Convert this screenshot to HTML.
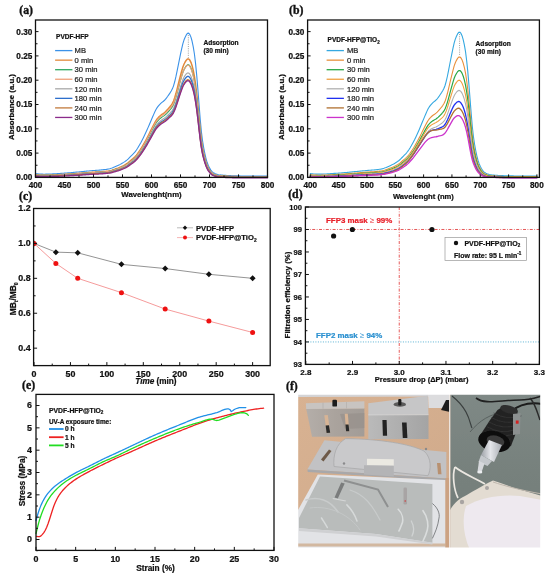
<!DOCTYPE html>
<html><head><meta charset="utf-8"><style>
html,body{margin:0;padding:0;background:#fff;}
svg{display:block;}
</style></head><body>
<svg width="550" height="578" viewBox="0 0 550 578">
<rect width="550" height="578" fill="#fff"/>
<polyline points="35.50,173.66 36.66,173.77 37.82,173.88 38.98,173.97 40.14,174.05 41.30,174.12 42.46,174.16 43.62,174.18 44.78,174.18 45.94,174.17 47.10,174.14 48.26,174.11 49.42,174.07 50.58,174.01 51.74,173.96 52.90,173.89 54.06,173.82 55.22,173.75 56.38,173.68 57.54,173.60 58.70,173.52 59.86,173.45 61.02,173.37 62.18,173.30 63.34,173.22 64.50,173.14 65.66,173.06 66.82,172.97 67.98,172.88 69.14,172.79 70.30,172.69 71.46,172.59 72.62,172.48 73.78,172.38 74.94,172.27 76.10,172.16 77.26,172.05 78.42,171.94 79.58,171.83 80.74,171.71 81.90,171.60 83.06,171.49 84.22,171.37 85.38,171.26 86.54,171.15 87.70,171.04 88.86,170.93 90.02,170.82 91.18,170.72 92.34,170.63 93.50,170.54 94.66,170.45 95.82,170.37 96.98,170.28 98.14,170.19 99.30,170.09 100.46,169.99 101.62,169.88 102.78,169.77 103.94,169.64 105.10,169.49 106.26,169.34 107.42,169.16 108.58,168.95 109.74,168.66 110.90,168.31 112.06,167.91 113.22,167.47 114.38,166.99 115.54,166.50 116.70,166.00 117.86,165.49 119.02,164.95 120.18,164.38 121.34,163.76 122.50,163.10 123.66,162.40 124.82,161.64 125.98,160.82 127.14,159.88 128.30,158.80 129.46,157.64 130.62,156.47 131.78,155.32 132.94,154.17 134.10,152.94 135.26,151.56 136.42,149.98 137.58,148.20 138.74,146.28 139.90,144.27 141.06,142.18 142.22,139.97 143.38,137.66 144.54,135.27 145.70,132.82 146.86,130.27 148.02,127.62 149.18,124.92 150.34,122.21 151.50,119.49 152.66,116.76 153.82,114.10 154.98,111.56 156.14,109.29 157.30,107.41 158.46,105.85 159.62,104.54 160.78,103.40 161.94,102.40 163.10,101.48 164.26,100.50 165.42,99.31 166.58,97.89 167.74,96.30 168.90,94.61 170.06,92.90 171.22,91.07 172.38,88.85 173.54,85.84 174.70,81.77 175.86,76.92 177.02,71.38 178.18,65.52 179.34,59.78 180.50,54.20 181.66,48.79 182.82,43.81 183.98,40.08 185.14,37.23 186.30,34.90 187.46,33.38 188.62,33.15 189.78,34.48 190.94,37.14 192.10,41.27 193.26,46.86 194.42,54.00 195.58,63.61 196.74,75.58 197.90,89.52 199.06,104.65 200.22,119.29 201.38,131.61 202.54,140.74 203.70,147.81 204.86,153.62 206.02,158.58 207.18,162.55 208.34,165.51 209.50,167.90 210.66,169.89 211.82,171.43 212.98,172.45 214.14,173.12 215.30,173.66 216.46,174.11 217.62,174.47 218.78,174.74 219.94,174.92 221.10,175.04 222.26,175.13 223.42,175.22 224.58,175.31 225.74,175.39 226.90,175.46 228.06,175.53 229.22,175.59 230.38,175.65 231.54,175.70 232.70,175.75 233.86,175.79 235.02,175.83 236.18,175.86 237.34,175.89 238.50,175.91 239.66,175.92 240.82,175.93 241.98,175.94 243.14,175.94 244.30,175.94 245.46,175.94 246.62,175.94 247.78,175.94 248.94,175.94 250.10,175.94 251.26,175.94 252.42,175.94 253.58,175.94 254.74,175.94 255.90,175.94 257.06,175.94 258.22,175.94 259.38,175.94 260.54,175.94 261.70,175.94 262.86,175.94 264.02,175.94 265.18,175.94 266.34,175.94 267.50,175.94" fill="none" stroke="#3b92e8" stroke-width="1.1" stroke-linejoin="round" stroke-linecap="round" />
<polyline points="35.50,174.82 36.66,174.91 37.82,175.00 38.98,175.07 40.14,175.14 41.30,175.19 42.46,175.23 43.62,175.24 44.78,175.24 45.94,175.23 47.10,175.21 48.26,175.19 49.42,175.15 50.58,175.11 51.74,175.06 52.90,175.01 54.06,174.95 55.22,174.89 56.38,174.83 57.54,174.77 58.70,174.70 59.86,174.64 61.02,174.58 62.18,174.52 63.34,174.46 64.50,174.39 65.66,174.32 66.82,174.25 67.98,174.18 69.14,174.10 70.30,174.02 71.46,173.94 72.62,173.85 73.78,173.77 74.94,173.68 76.10,173.59 77.26,173.50 78.42,173.40 79.58,173.31 80.74,173.22 81.90,173.13 83.06,173.03 84.22,172.94 85.38,172.85 86.54,172.76 87.70,172.66 88.86,172.58 90.02,172.49 91.18,172.41 92.34,172.33 93.50,172.26 94.66,172.18 95.82,172.11 96.98,172.04 98.14,171.97 99.30,171.89 100.46,171.81 101.62,171.72 102.78,171.62 103.94,171.52 105.10,171.40 106.26,171.27 107.42,171.13 108.58,170.95 109.74,170.72 110.90,170.43 112.06,170.10 113.22,169.73 114.38,169.34 115.54,168.94 116.70,168.53 117.86,168.11 119.02,167.66 120.18,167.18 121.34,166.68 122.50,166.13 123.66,165.55 124.82,164.92 125.98,164.24 127.14,163.45 128.30,162.55 129.46,161.58 130.62,160.60 131.78,159.64 132.94,158.67 134.10,157.63 135.26,156.46 136.42,155.13 137.58,153.62 138.74,152.00 139.90,150.30 141.06,148.52 142.22,146.64 143.38,144.67 144.54,142.64 145.70,140.54 146.86,138.36 148.02,136.09 149.18,133.78 150.34,131.46 151.50,129.12 152.66,126.79 153.82,124.51 154.98,122.33 156.14,120.38 157.30,118.75 158.46,117.39 159.62,116.24 160.78,115.25 161.94,114.38 163.10,113.59 164.26,112.75 165.42,111.76 166.58,110.60 167.74,109.31 168.90,107.95 170.06,106.59 171.22,105.13 172.38,103.37 173.54,100.97 174.70,97.71 175.86,93.82 177.02,89.36 178.18,84.64 179.34,80.03 180.50,75.55 181.66,71.21 182.82,67.22 183.98,64.26 185.14,62.01 186.30,60.18 187.46,59.02 188.62,58.91 189.78,60.07 190.94,62.33 192.10,65.78 193.26,70.41 194.42,76.32 195.58,84.25 196.74,94.11 197.90,105.59 199.06,118.04 200.22,130.07 201.38,140.21 202.54,147.72 203.70,153.53 204.86,158.32 206.02,162.39 207.18,165.66 208.34,168.10 209.50,170.06 210.66,171.71 211.82,172.97 212.98,173.81 214.14,174.37 215.30,174.81 216.46,175.18 217.62,175.48 218.78,175.70 219.94,175.85 221.10,175.94 222.26,176.02 223.42,176.10 224.58,176.17 225.74,176.23 226.90,176.30 228.06,176.35 229.22,176.40 230.38,176.45 231.54,176.49 232.70,176.53 233.86,176.57 235.02,176.60 236.18,176.62 237.34,176.64 238.50,176.66 239.66,176.67 240.82,176.68 241.98,176.69 243.14,176.69 244.30,176.69 245.46,176.69 246.62,176.69 247.78,176.69 248.94,176.69 250.10,176.69 251.26,176.69 252.42,176.69 253.58,176.69 254.74,176.69 255.90,176.69 257.06,176.69 258.22,176.69 259.38,176.69 260.54,176.69 261.70,176.69 262.86,176.69 264.02,176.69 265.18,176.69 266.34,176.69 267.50,176.69" fill="none" stroke="#e3893a" stroke-width="1.5" stroke-linejoin="round" stroke-linecap="round" />
<polyline points="35.50,174.97 36.66,175.06 37.82,175.14 38.98,175.21 40.14,175.28 41.30,175.33 42.46,175.36 43.62,175.38 44.78,175.38 45.94,175.37 47.10,175.35 48.26,175.32 49.42,175.29 50.58,175.25 51.74,175.20 52.90,175.15 54.06,175.10 55.22,175.04 56.38,174.98 57.54,174.92 58.70,174.86 59.86,174.80 61.02,174.75 62.18,174.69 63.34,174.63 64.50,174.57 65.66,174.50 66.82,174.43 67.98,174.36 69.14,174.29 70.30,174.21 71.46,174.13 72.62,174.05 73.78,173.97 74.94,173.89 76.10,173.80 77.26,173.72 78.42,173.63 79.58,173.54 80.74,173.45 81.90,173.36 83.06,173.28 84.22,173.19 85.38,173.10 86.54,173.01 87.70,172.93 88.86,172.84 90.02,172.76 91.18,172.68 92.34,172.61 93.50,172.54 94.66,172.47 95.82,172.40 96.98,172.33 98.14,172.26 99.30,172.19 100.46,172.11 101.62,172.03 102.78,171.93 103.94,171.83 105.10,171.72 106.26,171.60 107.42,171.46 108.58,171.30 109.74,171.07 110.90,170.80 112.06,170.49 113.22,170.14 114.38,169.77 115.54,169.39 116.70,169.00 117.86,168.59 119.02,168.17 120.18,167.72 121.34,167.23 122.50,166.71 123.66,166.16 124.82,165.56 125.98,164.91 127.14,164.16 128.30,163.30 129.46,162.38 130.62,161.45 131.78,160.53 132.94,159.60 134.10,158.60 135.26,157.49 136.42,156.21 137.58,154.78 138.74,153.22 139.90,151.59 141.06,149.89 142.22,148.09 143.38,146.21 144.54,144.26 145.70,142.25 146.86,140.16 148.02,137.99 149.18,135.77 150.34,133.54 151.50,131.31 152.66,129.07 153.82,126.88 154.98,124.79 156.14,122.92 157.30,121.36 158.46,120.05 159.62,118.94 160.78,117.99 161.94,117.15 163.10,116.39 164.26,115.59 165.42,114.65 166.58,113.54 167.74,112.32 168.90,111.04 170.06,109.75 171.22,108.37 172.38,106.72 173.54,104.45 174.70,101.36 175.86,97.69 177.02,93.47 178.18,89.01 179.34,84.65 180.50,80.42 181.66,76.31 182.82,72.54 183.98,69.75 185.14,67.63 186.30,65.91 187.46,64.82 188.62,64.74 189.78,65.86 190.94,68.01 192.10,71.30 193.26,75.72 194.42,81.34 195.58,88.88 196.74,98.26 197.90,109.17 199.06,121.00 200.22,132.44 201.38,142.07 202.54,149.21 203.70,154.74 204.86,159.29 206.02,163.16 207.18,166.27 208.34,168.59 209.50,170.45 210.66,172.01 211.82,173.21 212.98,174.01 214.14,174.54 215.30,174.96 216.46,175.31 217.62,175.60 218.78,175.81 219.94,175.95 221.10,176.04 222.26,176.12 223.42,176.19 224.58,176.26 225.74,176.32 226.90,176.38 228.06,176.43 229.22,176.48 230.38,176.52 231.54,176.56 232.70,176.60 233.86,176.63 235.02,176.66 236.18,176.69 237.34,176.71 238.50,176.72 239.66,176.73 240.82,176.74 241.98,176.75 243.14,176.75 244.30,176.75 245.46,176.75 246.62,176.75 247.78,176.75 248.94,176.75 250.10,176.75 251.26,176.75 252.42,176.75 253.58,176.75 254.74,176.75 255.90,176.75 257.06,176.75 258.22,176.75 259.38,176.75 260.54,176.75 261.70,176.75 262.86,176.75 264.02,176.75 265.18,176.75 266.34,176.75 267.50,176.75" fill="none" stroke="#2fa860" stroke-width="1.1" stroke-linejoin="round" stroke-linecap="round" />
<polyline points="35.50,175.00 36.66,175.09 37.82,175.17 38.98,175.24 40.14,175.30 41.30,175.35 42.46,175.39 43.62,175.40 44.78,175.40 45.94,175.39 47.10,175.37 48.26,175.35 49.42,175.31 50.58,175.27 51.74,175.23 52.90,175.18 54.06,175.13 55.22,175.07 56.38,175.01 57.54,174.95 58.70,174.90 59.86,174.84 61.02,174.78 62.18,174.72 63.34,174.66 64.50,174.60 65.66,174.54 66.82,174.47 67.98,174.40 69.14,174.33 70.30,174.25 71.46,174.17 72.62,174.09 73.78,174.01 74.94,173.93 76.10,173.84 77.26,173.76 78.42,173.67 79.58,173.59 80.74,173.50 81.90,173.41 83.06,173.32 84.22,173.24 85.38,173.15 86.54,173.06 87.70,172.98 88.86,172.89 90.02,172.81 91.18,172.73 92.34,172.66 93.50,172.59 94.66,172.53 95.82,172.46 96.98,172.39 98.14,172.32 99.30,172.25 100.46,172.17 101.62,172.09 102.78,172.00 103.94,171.90 105.10,171.79 106.26,171.67 107.42,171.53 108.58,171.36 109.74,171.14 110.90,170.87 112.06,170.56 113.22,170.22 114.38,169.85 115.54,169.47 116.70,169.08 117.86,168.68 119.02,168.26 120.18,167.81 121.34,167.32 122.50,166.81 123.66,166.25 124.82,165.65 125.98,165.00 127.14,164.24 128.30,163.38 129.46,162.45 130.62,161.50 131.78,160.57 132.94,159.62 134.10,158.60 135.26,157.46 136.42,156.16 137.58,154.69 138.74,153.09 139.90,151.42 141.06,149.67 142.22,147.81 143.38,145.87 144.54,143.85 145.70,141.77 146.86,139.61 148.02,137.36 149.18,135.06 150.34,132.74 151.50,130.42 152.66,128.10 153.82,125.83 154.98,123.65 156.14,121.70 157.30,120.06 158.46,118.68 159.62,117.51 160.78,116.49 161.94,115.61 163.10,114.82 164.26,114.00 165.42,113.05 166.58,111.96 167.74,110.76 168.90,109.52 170.06,108.29 171.22,106.98 172.38,105.41 173.54,103.24 174.70,100.27 175.86,96.73 177.02,92.66 178.18,88.35 179.34,84.14 180.50,80.06 181.66,76.11 182.82,72.48 183.98,69.82 185.14,67.83 186.30,66.23 187.46,65.24 188.62,65.24 189.78,66.43 190.94,68.64 192.10,71.96 193.26,76.40 194.42,82.01 195.58,89.53 196.74,98.85 197.90,109.68 199.06,121.43 200.22,132.77 201.38,142.33 202.54,149.41 203.70,154.90 204.86,159.42 206.02,163.26 207.18,166.35 208.34,168.65 209.50,170.50 210.66,172.05 211.82,173.25 212.98,174.04 214.14,174.57 215.30,174.99 216.46,175.34 217.62,175.62 218.78,175.83 219.94,175.97 221.10,176.06 222.26,176.13 223.42,176.21 224.58,176.27 225.74,176.33 226.90,176.39 228.06,176.44 229.22,176.49 230.38,176.54 231.54,176.58 232.70,176.61 233.86,176.65 235.02,176.67 236.18,176.70 237.34,176.72 238.50,176.73 239.66,176.75 240.82,176.75 241.98,176.76 243.14,176.76 244.30,176.76 245.46,176.76 246.62,176.76 247.78,176.76 248.94,176.76 250.10,176.76 251.26,176.76 252.42,176.76 253.58,176.76 254.74,176.76 255.90,176.76 257.06,176.76 258.22,176.76 259.38,176.76 260.54,176.76 261.70,176.76 262.86,176.76 264.02,176.76 265.18,176.76 266.34,176.76 267.50,176.76" fill="none" stroke="#f0a07a" stroke-width="1.1" stroke-linejoin="round" stroke-linecap="round" />
<polyline points="35.50,175.68 36.66,175.76 37.82,175.83 38.98,175.90 40.14,175.96 41.30,176.00 42.46,176.04 43.62,176.05 44.78,176.05 45.94,176.04 47.10,176.02 48.26,176.00 49.42,175.97 50.58,175.93 51.74,175.89 52.90,175.84 54.06,175.79 55.22,175.74 56.38,175.69 57.54,175.63 58.70,175.58 59.86,175.52 61.02,175.47 62.18,175.42 63.34,175.36 64.50,175.30 65.66,175.24 66.82,175.18 67.98,175.12 69.14,175.05 70.30,174.98 71.46,174.90 72.62,174.83 73.78,174.75 74.94,174.68 76.10,174.60 77.26,174.52 78.42,174.44 79.58,174.35 80.74,174.27 81.90,174.19 83.06,174.11 84.22,174.03 85.38,173.95 86.54,173.87 87.70,173.79 88.86,173.71 90.02,173.63 91.18,173.56 92.34,173.49 93.50,173.43 94.66,173.36 95.82,173.30 96.98,173.24 98.14,173.17 99.30,173.11 100.46,173.03 101.62,172.95 102.78,172.87 103.94,172.78 105.10,172.67 106.26,172.56 107.42,172.43 108.58,172.28 109.74,172.07 110.90,171.82 112.06,171.53 113.22,171.21 114.38,170.86 115.54,170.51 116.70,170.14 117.86,169.77 119.02,169.38 120.18,168.95 121.34,168.50 122.50,168.02 123.66,167.49 124.82,166.93 125.98,166.32 127.14,165.62 128.30,164.80 129.46,163.93 130.62,163.04 131.78,162.17 132.94,161.28 134.10,160.32 135.26,159.25 136.42,158.02 137.58,156.64 138.74,155.14 139.90,153.57 141.06,151.92 142.22,150.17 143.38,148.34 144.54,146.44 145.70,144.48 146.86,142.44 148.02,140.32 149.18,138.15 150.34,135.98 151.50,133.79 152.66,131.59 153.82,129.46 154.98,127.41 156.14,125.56 157.30,124.01 158.46,122.71 159.62,121.60 160.78,120.64 161.94,119.81 163.10,119.06 164.26,118.29 165.42,117.40 166.58,116.38 167.74,115.26 168.90,114.11 170.06,112.96 171.22,111.75 172.38,110.30 173.54,108.29 174.70,105.53 175.86,102.23 177.02,98.45 178.18,94.44 179.34,90.53 180.50,86.73 181.66,83.06 182.82,79.69 183.98,77.23 185.14,75.39 186.30,73.90 187.46,73.00 188.62,73.01 189.78,74.14 190.94,76.21 192.10,79.33 193.26,83.48 194.42,88.74 195.58,95.77 196.74,104.49 197.90,114.62 199.06,125.59 200.22,136.20 201.38,145.13 202.54,151.75 203.70,156.88 204.86,161.11 206.02,164.70 207.18,167.58 208.34,169.74 209.50,171.47 210.66,172.92 211.82,174.03 212.98,174.78 214.14,175.27 215.30,175.66 216.46,175.99 217.62,176.25 218.78,176.45 219.94,176.58 221.10,176.66 222.26,176.74 223.42,176.80 224.58,176.86 225.74,176.92 226.90,176.97 228.06,177.02 229.22,177.07 230.38,177.11 231.54,177.15 232.70,177.18 233.86,177.21 235.02,177.24 236.18,177.26 237.34,177.28 238.50,177.30 239.66,177.31 240.82,177.31 241.98,177.32 243.14,177.32 244.30,177.32 245.46,177.32 246.62,177.32 247.78,177.32 248.94,177.32 250.10,177.32 251.26,177.32 252.42,177.32 253.58,177.32 254.74,177.32 255.90,177.32 257.06,177.32 258.22,177.32 259.38,177.32 260.54,177.32 261.70,177.32 262.86,177.32 264.02,177.32 265.18,177.32 266.34,177.32 267.50,177.32" fill="none" stroke="#a9a9a9" stroke-width="1.1" stroke-linejoin="round" stroke-linecap="round" />
<polyline points="35.50,175.77 36.66,175.84 37.82,175.92 38.98,175.98 40.14,176.04 41.30,176.08 42.46,176.11 43.62,176.13 44.78,176.13 45.94,176.12 47.10,176.10 48.26,176.08 49.42,176.05 50.58,176.01 51.74,175.97 52.90,175.93 54.06,175.88 55.22,175.83 56.38,175.78 57.54,175.72 58.70,175.67 59.86,175.62 61.02,175.56 62.18,175.51 63.34,175.46 64.50,175.41 65.66,175.35 66.82,175.29 67.98,175.22 69.14,175.16 70.30,175.09 71.46,175.02 72.62,174.95 73.78,174.87 74.94,174.80 76.10,174.72 77.26,174.64 78.42,174.57 79.58,174.49 80.74,174.41 81.90,174.33 83.06,174.25 84.22,174.17 85.38,174.09 86.54,174.01 87.70,173.94 88.86,173.86 90.02,173.79 91.18,173.72 92.34,173.65 93.50,173.59 94.66,173.53 95.82,173.47 96.98,173.41 98.14,173.34 99.30,173.28 100.46,173.21 101.62,173.13 102.78,173.05 103.94,172.96 105.10,172.86 106.26,172.75 107.42,172.63 108.58,172.48 109.74,172.28 110.90,172.04 112.06,171.75 113.22,171.44 114.38,171.11 115.54,170.77 116.70,170.41 117.86,170.05 119.02,169.67 120.18,169.26 121.34,168.82 122.50,168.35 123.66,167.85 124.82,167.30 125.98,166.71 127.14,166.03 128.30,165.24 129.46,164.40 130.62,163.54 131.78,162.69 132.94,161.82 134.10,160.90 135.26,159.85 136.42,158.66 137.58,157.32 138.74,155.87 139.90,154.34 141.06,152.73 142.22,151.04 143.38,149.26 144.54,147.41 145.70,145.51 146.86,143.53 148.02,141.47 149.18,139.36 150.34,137.24 151.50,135.11 152.66,132.98 153.82,130.90 154.98,128.91 156.14,127.11 157.30,125.61 158.46,124.34 159.62,123.26 160.78,122.32 161.94,121.51 163.10,120.78 164.26,120.03 165.42,119.17 166.58,118.18 167.74,117.11 168.90,115.99 170.06,114.89 171.22,113.73 172.38,112.32 173.54,110.39 174.70,107.73 175.86,104.55 177.02,100.90 178.18,97.04 179.34,93.26 180.50,89.61 181.66,86.06 182.82,82.82 183.98,80.45 185.14,78.68 186.30,77.25 187.46,76.39 188.62,76.41 189.78,77.51 190.94,79.52 192.10,82.54 193.26,86.57 194.42,91.66 195.58,98.46 196.74,106.89 197.90,116.69 199.06,127.31 200.22,137.57 201.38,146.21 202.54,152.62 203.70,157.58 204.86,161.67 206.02,165.15 207.18,167.94 208.34,170.02 209.50,171.69 210.66,173.10 211.82,174.18 212.98,174.90 214.14,175.37 215.30,175.75 216.46,176.07 217.62,176.32 218.78,176.51 219.94,176.64 221.10,176.72 222.26,176.79 223.42,176.85 224.58,176.91 225.74,176.97 226.90,177.02 228.06,177.07 229.22,177.11 230.38,177.15 231.54,177.19 232.70,177.22 233.86,177.25 235.02,177.28 236.18,177.30 237.34,177.32 238.50,177.33 239.66,177.34 240.82,177.35 241.98,177.35 243.14,177.35 244.30,177.35 245.46,177.35 246.62,177.35 247.78,177.35 248.94,177.35 250.10,177.35 251.26,177.35 252.42,177.35 253.58,177.35 254.74,177.35 255.90,177.35 257.06,177.35 258.22,177.35 259.38,177.35 260.54,177.35 261.70,177.35 262.86,177.35 264.02,177.35 265.18,177.35 266.34,177.35 267.50,177.35" fill="none" stroke="#2d6fcc" stroke-width="1.3" stroke-linejoin="round" stroke-linecap="round" />
<polyline points="35.50,175.86 36.66,175.94 37.82,176.01 38.98,176.07 40.14,176.12 41.30,176.17 42.46,176.20 43.62,176.21 44.78,176.21 45.94,176.20 47.10,176.19 48.26,176.16 49.42,176.13 50.58,176.10 51.74,176.06 52.90,176.02 54.06,175.97 55.22,175.92 56.38,175.87 57.54,175.82 58.70,175.77 59.86,175.72 61.02,175.67 62.18,175.62 63.34,175.57 64.50,175.52 65.66,175.46 66.82,175.40 67.98,175.34 69.14,175.28 70.30,175.21 71.46,175.14 72.62,175.07 73.78,175.00 74.94,174.93 76.10,174.86 77.26,174.78 78.42,174.71 79.58,174.63 80.74,174.55 81.90,174.48 83.06,174.40 84.22,174.33 85.38,174.25 86.54,174.18 87.70,174.10 88.86,174.03 90.02,173.96 91.18,173.89 92.34,173.83 93.50,173.77 94.66,173.71 95.82,173.65 96.98,173.59 98.14,173.53 99.30,173.47 100.46,173.40 101.62,173.33 102.78,173.25 103.94,173.16 105.10,173.07 106.26,172.96 107.42,172.84 108.58,172.70 109.74,172.51 110.90,172.27 112.06,172.00 113.22,171.70 114.38,171.38 115.54,171.04 116.70,170.71 117.86,170.36 119.02,169.99 120.18,169.59 121.34,169.17 122.50,168.71 123.66,168.22 124.82,167.69 125.98,167.12 127.14,166.45 128.30,165.69 129.46,164.86 130.62,164.02 131.78,163.19 132.94,162.34 134.10,161.43 135.26,160.41 136.42,159.23 137.58,157.91 138.74,156.48 139.90,154.98 141.06,153.40 142.22,151.72 143.38,149.96 144.54,148.14 145.70,146.25 146.86,144.29 148.02,142.25 149.18,140.16 150.34,138.06 151.50,135.95 152.66,133.84 153.82,131.77 154.98,129.79 156.14,128.01 157.30,126.51 158.46,125.24 159.62,124.15 160.78,123.22 161.94,122.40 163.10,121.68 164.26,120.94 165.42,120.11 166.58,119.15 167.74,118.12 168.90,117.07 170.06,116.03 171.22,114.94 172.38,113.63 173.54,111.81 174.70,109.29 175.86,106.29 177.02,102.83 178.18,99.17 179.34,95.59 180.50,92.13 181.66,88.78 182.82,85.72 183.98,83.49 185.14,81.85 186.30,80.53 187.46,79.75 188.62,79.82 189.78,80.92 190.94,82.90 192.10,85.85 193.26,89.76 194.42,94.69 195.58,101.27 196.74,109.41 197.90,118.87 199.06,129.11 200.22,139.01 201.38,147.34 202.54,153.52 203.70,158.31 204.86,162.25 206.02,165.61 207.18,168.30 208.34,170.31 209.50,171.93 210.66,173.28 211.82,174.32 212.98,175.02 214.14,175.48 215.30,175.84 216.46,176.15 217.62,176.39 218.78,176.58 219.94,176.70 221.10,176.78 222.26,176.85 223.42,176.91 224.58,176.97 225.74,177.02 226.90,177.07 228.06,177.12 229.22,177.16 230.38,177.20 231.54,177.23 232.70,177.27 233.86,177.29 235.02,177.32 236.18,177.34 237.34,177.36 238.50,177.37 239.66,177.38 240.82,177.39 241.98,177.39 243.14,177.39 244.30,177.39 245.46,177.39 246.62,177.39 247.78,177.39 248.94,177.39 250.10,177.39 251.26,177.39 252.42,177.39 253.58,177.39 254.74,177.39 255.90,177.39 257.06,177.39 258.22,177.39 259.38,177.39 260.54,177.39 261.70,177.39 262.86,177.39 264.02,177.39 265.18,177.39 266.34,177.39 267.50,177.39" fill="none" stroke="#c27a3c" stroke-width="1.3" stroke-linejoin="round" stroke-linecap="round" />
<polyline points="35.50,176.36 36.66,176.43 37.82,176.50 38.98,176.57 40.14,176.62 41.30,176.66 42.46,176.69 43.62,176.71 44.78,176.71 45.94,176.70 47.10,176.68 48.26,176.66 49.42,176.63 50.58,176.59 51.74,176.56 52.90,176.51 54.06,176.47 55.22,176.42 56.38,176.37 57.54,176.32 58.70,176.27 59.86,176.21 61.02,176.16 62.18,176.12 63.34,176.07 64.50,176.01 65.66,175.96 66.82,175.90 67.98,175.84 69.14,175.77 70.30,175.71 71.46,175.64 72.62,175.57 73.78,175.50 74.94,175.43 76.10,175.36 77.26,175.28 78.42,175.21 79.58,175.13 80.74,175.06 81.90,174.98 83.06,174.90 84.22,174.83 85.38,174.75 86.54,174.68 87.70,174.60 88.86,174.53 90.02,174.46 91.18,174.39 92.34,174.33 93.50,174.27 94.66,174.21 95.82,174.15 96.98,174.10 98.14,174.04 99.30,173.97 100.46,173.91 101.62,173.83 102.78,173.75 103.94,173.67 105.10,173.57 106.26,173.47 107.42,173.35 108.58,173.20 109.74,173.01 110.90,172.78 112.06,172.51 113.22,172.21 114.38,171.89 115.54,171.56 116.70,171.22 117.86,170.87 119.02,170.51 120.18,170.11 121.34,169.69 122.50,169.24 123.66,168.75 124.82,168.23 125.98,167.65 127.14,166.99 128.30,166.23 129.46,165.41 130.62,164.58 131.78,163.76 132.94,162.92 134.10,162.01 135.26,161.00 136.42,159.84 137.58,158.53 138.74,157.11 139.90,155.62 141.06,154.06 142.22,152.40 143.38,150.66 144.54,148.86 145.70,146.99 146.86,145.05 148.02,143.03 149.18,140.97 150.34,138.89 151.50,136.81 152.66,134.72 153.82,132.68 154.98,130.72 156.14,128.96 157.30,127.48 158.46,126.22 159.62,125.16 160.78,124.24 161.94,123.43 163.10,122.72 164.26,121.99 165.42,121.16 166.58,120.21 167.74,119.18 168.90,118.13 170.06,117.08 171.22,115.99 172.38,114.67 173.54,112.85 174.70,110.33 175.86,107.32 177.02,103.86 178.18,100.20 179.34,96.62 180.50,93.16 181.66,89.81 182.82,86.74 183.98,84.51 185.14,82.85 186.30,81.52 187.46,80.73 188.62,80.79 189.78,81.87 190.94,83.84 192.10,86.76 193.26,90.64 194.42,95.55 195.58,102.09 196.74,110.20 197.90,119.62 199.06,129.81 200.22,139.67 201.38,147.97 202.54,154.12 203.70,158.89 204.86,162.81 206.02,166.15 207.18,168.83 208.34,170.83 209.50,172.44 210.66,173.79 211.82,174.83 212.98,175.52 214.14,175.98 215.30,176.34 216.46,176.64 217.62,176.89 218.78,177.07 219.94,177.19 221.10,177.27 222.26,177.34 223.42,177.40 224.58,177.46 225.74,177.51 226.90,177.56 228.06,177.61 229.22,177.65 230.38,177.69 231.54,177.72 232.70,177.76 233.86,177.78 235.02,177.81 236.18,177.83 237.34,177.85 238.50,177.86 239.66,177.87 240.82,177.88 241.98,177.88 243.14,177.88 244.30,177.88 245.46,177.88 246.62,177.88 247.78,177.88 248.94,177.88 250.10,177.88 251.26,177.88 252.42,177.88 253.58,177.88 254.74,177.88 255.90,177.88 257.06,177.88 258.22,177.88 259.38,177.88 260.54,177.88 261.70,177.88 262.86,177.88 264.02,177.88 265.18,177.88 266.34,177.88 267.50,177.88" fill="none" stroke="#8b2b8b" stroke-width="1.3" stroke-linejoin="round" stroke-linecap="round" />
<line x1="188.33" y1="35.06" x2="188.33" y2="57.82" stroke="#777" stroke-width="0.7" stroke-dasharray="1,1.2"/>
<rect x="35.50" y="20.00" width="232.00" height="157.40" fill="none" stroke="#111" stroke-width="1.3"/>
<line x1="35.50" y1="177.40" x2="35.50" y2="174.40" stroke="#111" stroke-width="1" />
<line x1="50.00" y1="177.40" x2="50.00" y2="175.40" stroke="#111" stroke-width="1" />
<line x1="64.50" y1="177.40" x2="64.50" y2="174.40" stroke="#111" stroke-width="1" />
<line x1="79.00" y1="177.40" x2="79.00" y2="175.40" stroke="#111" stroke-width="1" />
<line x1="93.50" y1="177.40" x2="93.50" y2="174.40" stroke="#111" stroke-width="1" />
<line x1="108.00" y1="177.40" x2="108.00" y2="175.40" stroke="#111" stroke-width="1" />
<line x1="122.50" y1="177.40" x2="122.50" y2="174.40" stroke="#111" stroke-width="1" />
<line x1="137.00" y1="177.40" x2="137.00" y2="175.40" stroke="#111" stroke-width="1" />
<line x1="151.50" y1="177.40" x2="151.50" y2="174.40" stroke="#111" stroke-width="1" />
<line x1="166.00" y1="177.40" x2="166.00" y2="175.40" stroke="#111" stroke-width="1" />
<line x1="180.50" y1="177.40" x2="180.50" y2="174.40" stroke="#111" stroke-width="1" />
<line x1="195.00" y1="177.40" x2="195.00" y2="175.40" stroke="#111" stroke-width="1" />
<line x1="209.50" y1="177.40" x2="209.50" y2="174.40" stroke="#111" stroke-width="1" />
<line x1="224.00" y1="177.40" x2="224.00" y2="175.40" stroke="#111" stroke-width="1" />
<line x1="238.50" y1="177.40" x2="238.50" y2="174.40" stroke="#111" stroke-width="1" />
<line x1="253.00" y1="177.40" x2="253.00" y2="175.40" stroke="#111" stroke-width="1" />
<line x1="267.50" y1="177.40" x2="267.50" y2="174.40" stroke="#111" stroke-width="1" />
<line x1="35.50" y1="177.40" x2="38.50" y2="177.40" stroke="#111" stroke-width="1" />
<line x1="35.50" y1="165.25" x2="37.50" y2="165.25" stroke="#111" stroke-width="1" />
<line x1="35.50" y1="153.10" x2="38.50" y2="153.10" stroke="#111" stroke-width="1" />
<line x1="35.50" y1="140.95" x2="37.50" y2="140.95" stroke="#111" stroke-width="1" />
<line x1="35.50" y1="128.80" x2="38.50" y2="128.80" stroke="#111" stroke-width="1" />
<line x1="35.50" y1="116.65" x2="37.50" y2="116.65" stroke="#111" stroke-width="1" />
<line x1="35.50" y1="104.50" x2="38.50" y2="104.50" stroke="#111" stroke-width="1" />
<line x1="35.50" y1="92.35" x2="37.50" y2="92.35" stroke="#111" stroke-width="1" />
<line x1="35.50" y1="80.20" x2="38.50" y2="80.20" stroke="#111" stroke-width="1" />
<line x1="35.50" y1="68.05" x2="37.50" y2="68.05" stroke="#111" stroke-width="1" />
<line x1="35.50" y1="55.90" x2="38.50" y2="55.90" stroke="#111" stroke-width="1" />
<line x1="35.50" y1="43.75" x2="37.50" y2="43.75" stroke="#111" stroke-width="1" />
<line x1="35.50" y1="31.60" x2="38.50" y2="31.60" stroke="#111" stroke-width="1" />
<text x="35.50" y="187.70" font-size="8.2" font-weight="bold" text-anchor="middle" fill="#111" font-family="'Liberation Sans', Arial, sans-serif" stroke="#111" stroke-width="0.22">400</text>
<text x="64.50" y="187.70" font-size="8.2" font-weight="bold" text-anchor="middle" fill="#111" font-family="'Liberation Sans', Arial, sans-serif" stroke="#111" stroke-width="0.22">450</text>
<text x="93.50" y="187.70" font-size="8.2" font-weight="bold" text-anchor="middle" fill="#111" font-family="'Liberation Sans', Arial, sans-serif" stroke="#111" stroke-width="0.22">500</text>
<text x="122.50" y="187.70" font-size="8.2" font-weight="bold" text-anchor="middle" fill="#111" font-family="'Liberation Sans', Arial, sans-serif" stroke="#111" stroke-width="0.22">550</text>
<text x="151.50" y="187.70" font-size="8.2" font-weight="bold" text-anchor="middle" fill="#111" font-family="'Liberation Sans', Arial, sans-serif" stroke="#111" stroke-width="0.22">600</text>
<text x="180.50" y="187.70" font-size="8.2" font-weight="bold" text-anchor="middle" fill="#111" font-family="'Liberation Sans', Arial, sans-serif" stroke="#111" stroke-width="0.22">650</text>
<text x="209.50" y="187.70" font-size="8.2" font-weight="bold" text-anchor="middle" fill="#111" font-family="'Liberation Sans', Arial, sans-serif" stroke="#111" stroke-width="0.22">700</text>
<text x="238.50" y="187.70" font-size="8.2" font-weight="bold" text-anchor="middle" fill="#111" font-family="'Liberation Sans', Arial, sans-serif" stroke="#111" stroke-width="0.22">750</text>
<text x="267.50" y="187.70" font-size="8.2" font-weight="bold" text-anchor="middle" fill="#111" font-family="'Liberation Sans', Arial, sans-serif" stroke="#111" stroke-width="0.22">800</text>
<text x="32.30" y="180.30" font-size="8.2" font-weight="bold" text-anchor="end" fill="#111" font-family="'Liberation Sans', Arial, sans-serif" stroke="#111" stroke-width="0.22">0.00</text>
<text x="32.30" y="156.00" font-size="8.2" font-weight="bold" text-anchor="end" fill="#111" font-family="'Liberation Sans', Arial, sans-serif" stroke="#111" stroke-width="0.22">0.05</text>
<text x="32.30" y="131.70" font-size="8.2" font-weight="bold" text-anchor="end" fill="#111" font-family="'Liberation Sans', Arial, sans-serif" stroke="#111" stroke-width="0.22">0.10</text>
<text x="32.30" y="107.40" font-size="8.2" font-weight="bold" text-anchor="end" fill="#111" font-family="'Liberation Sans', Arial, sans-serif" stroke="#111" stroke-width="0.22">0.15</text>
<text x="32.30" y="83.10" font-size="8.2" font-weight="bold" text-anchor="end" fill="#111" font-family="'Liberation Sans', Arial, sans-serif" stroke="#111" stroke-width="0.22">0.20</text>
<text x="32.30" y="58.80" font-size="8.2" font-weight="bold" text-anchor="end" fill="#111" font-family="'Liberation Sans', Arial, sans-serif" stroke="#111" stroke-width="0.22">0.25</text>
<text x="32.30" y="34.50" font-size="8.2" font-weight="bold" text-anchor="end" fill="#111" font-family="'Liberation Sans', Arial, sans-serif" stroke="#111" stroke-width="0.22">0.30</text>
<text x="56.10" y="39.30" font-size="6.5" font-weight="bold" text-anchor="start" fill="#111" font-family="'Liberation Sans', Arial, sans-serif" stroke="#111" stroke-width="0.22">PVDF-HFP</text>
<line x1="55.10" y1="50.60" x2="72.40" y2="50.60" stroke="#3b92e8" stroke-width="1.3" />
<text x="74.60" y="53.30" font-size="7.6" font-weight="normal" text-anchor="start" fill="#222" font-family="'Liberation Sans', Arial, sans-serif" stroke="#222" stroke-width="0.22">MB</text>
<line x1="55.10" y1="60.15" x2="72.40" y2="60.15" stroke="#e3893a" stroke-width="1.3" />
<text x="74.60" y="62.85" font-size="7.6" font-weight="normal" text-anchor="start" fill="#222" font-family="'Liberation Sans', Arial, sans-serif" stroke="#222" stroke-width="0.22">0 min</text>
<line x1="55.10" y1="69.70" x2="72.40" y2="69.70" stroke="#2fa860" stroke-width="1.3" />
<text x="74.60" y="72.40" font-size="7.6" font-weight="normal" text-anchor="start" fill="#222" font-family="'Liberation Sans', Arial, sans-serif" stroke="#222" stroke-width="0.22">30 min</text>
<line x1="55.10" y1="79.25" x2="72.40" y2="79.25" stroke="#f0a07a" stroke-width="1.3" />
<text x="74.60" y="81.95" font-size="7.6" font-weight="normal" text-anchor="start" fill="#222" font-family="'Liberation Sans', Arial, sans-serif" stroke="#222" stroke-width="0.22">60 min</text>
<line x1="55.10" y1="88.80" x2="72.40" y2="88.80" stroke="#a9a9a9" stroke-width="1.3" />
<text x="74.60" y="91.50" font-size="7.6" font-weight="normal" text-anchor="start" fill="#222" font-family="'Liberation Sans', Arial, sans-serif" stroke="#222" stroke-width="0.22">120 min</text>
<line x1="55.10" y1="98.35" x2="72.40" y2="98.35" stroke="#2d6fcc" stroke-width="1.3" />
<text x="74.60" y="101.05" font-size="7.6" font-weight="normal" text-anchor="start" fill="#222" font-family="'Liberation Sans', Arial, sans-serif" stroke="#222" stroke-width="0.22">180 min</text>
<line x1="55.10" y1="107.90" x2="72.40" y2="107.90" stroke="#c27a3c" stroke-width="1.3" />
<text x="74.60" y="110.60" font-size="7.6" font-weight="normal" text-anchor="start" fill="#222" font-family="'Liberation Sans', Arial, sans-serif" stroke="#222" stroke-width="0.22">240 min</text>
<line x1="55.10" y1="117.45" x2="72.40" y2="117.45" stroke="#8b2b8b" stroke-width="1.3" />
<text x="74.60" y="120.15" font-size="7.6" font-weight="normal" text-anchor="start" fill="#222" font-family="'Liberation Sans', Arial, sans-serif" stroke="#222" stroke-width="0.22">300 min</text>
<text x="203.40" y="44.80" font-size="6.6" font-weight="bold" text-anchor="start" fill="#111" font-family="'Liberation Sans', Arial, sans-serif" stroke="#111" stroke-width="0.22">Adsorption</text>
<text x="203.40" y="53.10" font-size="6.6" font-weight="bold" text-anchor="start" fill="#111" font-family="'Liberation Sans', Arial, sans-serif" stroke="#111" stroke-width="0.22">(30 min)</text>
<text x="19.30" y="14.30" font-size="11.8" font-weight="bold" text-anchor="start" fill="#111" font-family="'Liberation Serif', 'Times New Roman', serif" stroke="#111" stroke-width="0.35">(a)</text>
<text x="151.50" y="196.80" font-size="7.8" font-weight="bold" text-anchor="middle" fill="#111" font-family="'Liberation Sans', Arial, sans-serif" stroke="#111" stroke-width="0.22">Wavelenght(nm)</text>
<text transform="translate(14.2,107) rotate(-90)" font-size="7.8" font-weight="bold" text-anchor="middle" fill="#111" stroke="#111" stroke-width="0.22" font-family="'Liberation Sans', Arial, sans-serif">Absorbance (a.u.)</text>
<polyline points="310.30,173.64 311.43,173.75 312.57,173.85 313.70,173.95 314.83,174.03 315.97,174.09 317.10,174.14 318.23,174.16 319.36,174.16 320.50,174.15 321.63,174.12 322.76,174.09 323.90,174.04 325.03,173.99 326.16,173.93 327.30,173.87 328.43,173.80 329.56,173.73 330.69,173.65 331.83,173.57 332.96,173.50 334.09,173.42 335.23,173.34 336.36,173.27 337.49,173.20 338.62,173.12 339.76,173.03 340.89,172.94 342.02,172.85 343.16,172.76 344.29,172.66 345.42,172.56 346.56,172.45 347.69,172.34 348.82,172.24 349.96,172.13 351.09,172.01 352.22,171.90 353.35,171.79 354.49,171.67 355.62,171.56 356.75,171.45 357.89,171.33 359.02,171.22 360.15,171.11 361.29,170.99 362.42,170.88 363.55,170.78 364.68,170.68 365.82,170.58 366.95,170.49 368.08,170.40 369.22,170.32 370.35,170.23 371.48,170.14 372.62,170.04 373.75,169.94 374.88,169.83 376.01,169.71 377.15,169.58 378.28,169.44 379.41,169.28 380.55,169.11 381.68,168.89 382.81,168.60 383.94,168.25 385.08,167.85 386.21,167.40 387.34,166.92 388.48,166.43 389.61,165.93 390.74,165.41 391.88,164.87 393.01,164.29 394.14,163.67 395.27,163.01 396.41,162.30 397.54,161.54 398.67,160.71 399.81,159.76 400.94,158.67 402.07,157.50 403.21,156.33 404.34,155.17 405.47,154.01 406.61,152.77 407.74,151.38 408.87,149.79 410.00,148.00 411.14,146.07 412.27,144.05 413.40,141.94 414.54,139.72 415.67,137.39 416.80,134.99 417.94,132.52 419.07,129.96 420.20,127.29 421.33,124.57 422.47,121.83 423.60,119.10 424.73,116.35 425.87,113.68 427.00,111.12 428.13,108.83 429.26,106.94 430.40,105.37 431.53,104.05 432.66,102.90 433.80,101.90 434.93,100.97 436.06,99.98 437.20,98.78 438.33,97.35 439.46,95.75 440.60,94.06 441.73,92.33 442.86,90.48 443.99,88.26 445.13,85.23 446.26,81.12 447.39,76.25 448.53,70.67 449.66,64.77 450.79,58.99 451.93,53.37 453.06,47.92 454.19,42.91 455.32,39.16 456.46,36.29 457.59,33.94 458.72,32.41 459.86,32.17 460.99,33.43 462.12,35.93 463.25,39.79 464.39,45.04 465.52,51.65 466.65,60.45 467.79,71.57 468.92,84.61 470.05,99.11 471.19,113.66 472.32,126.72 473.45,136.80 474.59,144.43 475.72,150.61 476.85,155.84 477.98,160.26 479.12,163.70 480.25,166.31 481.38,168.50 482.52,170.32 483.65,171.68 484.78,172.57 485.92,173.19 487.05,173.70 488.18,174.13 489.31,174.47 490.45,174.73 491.58,174.90 492.71,175.01 493.85,175.11 494.98,175.20 496.11,175.28 497.25,175.36 498.38,175.43 499.51,175.50 500.64,175.56 501.78,175.62 502.91,175.67 504.04,175.72 505.18,175.77 506.31,175.80 507.44,175.84 508.58,175.86 509.71,175.89 510.84,175.90 511.97,175.92 513.11,175.92 514.24,175.93 515.37,175.93 516.51,175.93 517.64,175.93 518.77,175.93 519.90,175.93 521.04,175.93 522.17,175.93 523.30,175.93 524.44,175.93 525.57,175.93 526.70,175.93 527.84,175.93 528.97,175.93 530.10,175.93 531.24,175.93 532.37,175.93 533.50,175.93 534.63,175.93 535.77,175.93 536.90,175.93" fill="none" stroke="#35a8e0" stroke-width="1.1" stroke-linejoin="round" stroke-linecap="round" />
<polyline points="310.30,174.76 311.43,174.85 312.57,174.93 313.70,175.01 314.83,175.08 315.97,175.13 317.10,175.17 318.23,175.19 319.36,175.19 320.50,175.18 321.63,175.16 322.76,175.13 323.90,175.09 325.03,175.05 326.16,175.00 327.30,174.95 328.43,174.89 329.56,174.83 330.69,174.77 331.83,174.70 332.96,174.64 334.09,174.57 335.23,174.51 336.36,174.45 337.49,174.39 338.62,174.32 339.76,174.25 340.89,174.18 342.02,174.10 343.16,174.02 344.29,173.94 345.42,173.85 346.56,173.77 347.69,173.68 348.82,173.59 349.96,173.50 351.09,173.40 352.22,173.31 353.35,173.21 354.49,173.12 355.62,173.02 356.75,172.93 357.89,172.83 359.02,172.74 360.15,172.65 361.29,172.55 362.42,172.46 363.55,172.37 364.68,172.29 365.82,172.21 366.95,172.14 368.08,172.06 369.22,171.99 370.35,171.92 371.48,171.84 372.62,171.76 373.75,171.68 374.88,171.59 376.01,171.49 377.15,171.38 378.28,171.26 379.41,171.13 380.55,170.98 381.68,170.80 382.81,170.56 383.94,170.27 385.08,169.93 386.21,169.56 387.34,169.16 388.48,168.75 389.61,168.33 390.74,167.90 391.88,167.44 393.01,166.96 394.14,166.44 395.27,165.88 396.41,165.29 397.54,164.65 398.67,163.96 399.81,163.16 400.94,162.25 402.07,161.27 403.21,160.28 404.34,159.31 405.47,158.33 406.61,157.29 407.74,156.12 408.87,154.78 410.00,153.28 411.14,151.66 412.27,149.96 413.40,148.19 414.54,146.32 415.67,144.37 416.80,142.35 417.94,140.28 419.07,138.13 420.20,135.90 421.33,133.62 422.47,131.33 423.60,129.04 424.73,126.74 425.87,124.51 427.00,122.37 428.13,120.47 429.26,118.89 430.40,117.59 431.53,116.49 432.66,115.54 433.80,114.71 434.93,113.95 436.06,113.13 437.20,112.15 438.33,110.97 439.46,109.65 440.60,108.26 441.73,106.84 442.86,105.32 443.99,103.48 445.13,100.97 446.26,97.57 447.39,93.52 448.53,88.89 449.66,84.00 450.79,79.20 451.93,74.54 453.06,70.01 454.19,65.84 455.32,62.73 456.46,60.35 457.59,58.40 458.72,57.13 459.86,56.95 460.99,58.00 462.12,60.09 463.25,63.30 464.39,67.67 465.52,73.18 466.65,80.51 467.79,89.77 468.92,100.62 470.05,112.70 471.19,124.81 472.32,135.69 473.45,144.09 474.59,150.44 475.72,155.58 476.85,159.93 477.98,163.62 479.12,166.48 480.25,168.66 481.38,170.48 482.52,171.99 483.65,173.12 484.78,173.87 485.92,174.38 487.05,174.81 488.18,175.16 489.31,175.45 490.45,175.66 491.58,175.80 492.71,175.90 493.85,175.98 494.98,176.05 496.11,176.12 497.25,176.19 498.38,176.25 499.51,176.31 500.64,176.36 501.78,176.41 502.91,176.45 504.04,176.49 505.18,176.52 506.31,176.56 507.44,176.58 508.58,176.61 509.71,176.63 510.84,176.64 511.97,176.65 513.11,176.66 514.24,176.66 515.37,176.66 516.51,176.66 517.64,176.66 518.77,176.66 519.90,176.66 521.04,176.66 522.17,176.66 523.30,176.66 524.44,176.66 525.57,176.66 526.70,176.66 527.84,176.66 528.97,176.66 530.10,176.66 531.24,176.66 532.37,176.66 533.50,176.66 534.63,176.66 535.77,176.66 536.90,176.66" fill="none" stroke="#e8903c" stroke-width="1.1" stroke-linejoin="round" stroke-linecap="round" />
<polyline points="310.30,175.35 311.43,175.43 312.57,175.51 313.70,175.58 314.83,175.64 315.97,175.68 317.10,175.72 318.23,175.73 319.36,175.73 320.50,175.72 321.63,175.71 322.76,175.68 323.90,175.65 325.03,175.61 326.16,175.57 327.30,175.52 328.43,175.47 329.56,175.41 330.69,175.36 331.83,175.30 332.96,175.24 334.09,175.19 335.23,175.13 336.36,175.08 337.49,175.02 338.62,174.96 339.76,174.90 340.89,174.83 342.02,174.77 343.16,174.70 344.29,174.62 345.42,174.55 346.56,174.47 347.69,174.39 348.82,174.31 349.96,174.23 351.09,174.15 352.22,174.06 353.35,173.98 354.49,173.90 355.62,173.81 356.75,173.73 357.89,173.64 359.02,173.56 360.15,173.48 361.29,173.39 362.42,173.31 363.55,173.23 364.68,173.16 365.82,173.09 366.95,173.02 368.08,172.96 369.22,172.89 370.35,172.83 371.48,172.76 372.62,172.69 373.75,172.62 374.88,172.53 376.01,172.45 377.15,172.35 378.28,172.24 379.41,172.12 380.55,171.99 381.68,171.83 382.81,171.62 383.94,171.35 385.08,171.05 386.21,170.72 387.34,170.36 388.48,169.98 389.61,169.60 390.74,169.21 391.88,168.80 393.01,168.35 394.14,167.87 395.27,167.36 396.41,166.81 397.54,166.22 398.67,165.57 399.81,164.83 400.94,163.98 402.07,163.06 403.21,162.14 404.34,161.22 405.47,160.29 406.61,159.30 407.74,158.19 408.87,156.92 410.00,155.51 411.14,153.98 412.27,152.38 413.40,150.72 414.54,148.96 415.67,147.14 416.80,145.25 417.94,143.32 419.07,141.32 420.20,139.26 421.33,137.15 422.47,135.05 423.60,132.96 424.73,130.87 425.87,128.84 427.00,126.91 428.13,125.20 429.26,123.80 430.40,122.64 431.53,121.69 432.66,120.88 433.80,120.18 434.93,119.56 436.06,118.90 437.20,118.09 438.33,117.13 439.46,116.04 440.60,114.89 441.73,113.72 442.86,112.46 443.99,110.92 445.13,108.79 446.26,105.86 447.39,102.36 448.53,98.34 449.66,94.07 450.79,89.89 451.93,85.82 453.06,81.87 454.19,78.23 455.32,75.52 456.46,73.46 457.59,71.77 458.72,70.69 459.86,70.55 460.99,71.52 462.12,73.40 463.25,76.28 464.39,80.18 465.52,85.09 466.65,91.60 467.79,99.84 468.92,109.49 470.05,120.22 471.19,130.98 472.32,140.64 473.45,148.10 474.59,153.75 475.72,158.31 476.85,162.18 477.98,165.45 479.12,167.99 480.25,169.93 481.38,171.55 482.52,172.89 483.65,173.90 484.78,174.56 485.92,175.02 487.05,175.39 488.18,175.71 489.31,175.96 490.45,176.15 491.58,176.28 492.71,176.37 493.85,176.44 494.98,176.50 496.11,176.56 497.25,176.62 498.38,176.68 499.51,176.73 500.64,176.77 501.78,176.81 502.91,176.85 504.04,176.89 505.18,176.92 506.31,176.95 507.44,176.97 508.58,176.99 509.71,177.01 510.84,177.02 511.97,177.03 513.11,177.04 514.24,177.04 515.37,177.04 516.51,177.04 517.64,177.04 518.77,177.04 519.90,177.04 521.04,177.04 522.17,177.04 523.30,177.04 524.44,177.04 525.57,177.04 526.70,177.04 527.84,177.04 528.97,177.04 530.10,177.04 531.24,177.04 532.37,177.04 533.50,177.04 534.63,177.04 535.77,177.04 536.90,177.04" fill="none" stroke="#2aa845" stroke-width="1.2" stroke-linejoin="round" stroke-linecap="round" />
<polyline points="310.30,175.62 311.43,175.70 312.57,175.77 313.70,175.83 314.83,175.88 315.97,175.92 317.10,175.94 318.23,175.95 319.36,175.95 320.50,175.94 321.63,175.92 322.76,175.90 323.90,175.87 325.03,175.83 326.16,175.79 327.30,175.75 328.43,175.70 329.56,175.65 330.69,175.60 331.83,175.55 332.96,175.50 334.09,175.44 335.23,175.39 336.36,175.34 337.49,175.29 338.62,175.24 339.76,175.18 340.89,175.12 342.02,175.06 343.16,175.00 344.29,174.93 345.42,174.86 346.56,174.79 347.69,174.72 348.82,174.64 349.96,174.57 351.09,174.50 352.22,174.42 353.35,174.34 354.49,174.27 355.62,174.19 356.75,174.11 357.89,174.04 359.02,173.96 360.15,173.89 361.29,173.81 362.42,173.74 363.55,173.67 364.68,173.60 365.82,173.54 366.95,173.48 368.08,173.42 369.22,173.36 370.35,173.30 371.48,173.24 372.62,173.17 373.75,173.10 374.88,173.03 376.01,172.95 377.15,172.86 378.28,172.76 379.41,172.64 380.55,172.52 381.68,172.36 382.81,172.15 383.94,171.90 385.08,171.62 386.21,171.30 387.34,170.97 388.48,170.62 389.61,170.27 390.74,169.90 391.88,169.50 393.01,169.08 394.14,168.63 395.27,168.14 396.41,167.61 397.54,167.03 398.67,166.40 399.81,165.67 400.94,164.84 402.07,163.97 403.21,163.08 404.34,162.20 405.47,161.29 406.61,160.30 407.74,159.20 408.87,157.94 410.00,156.55 411.14,155.07 412.27,153.52 413.40,151.90 414.54,150.21 415.67,148.45 416.80,146.64 417.94,144.79 419.07,142.87 420.20,140.90 421.33,138.92 422.47,136.94 423.60,134.98 424.73,133.04 425.87,131.18 427.00,129.43 428.13,127.93 429.26,126.70 430.40,125.71 431.53,124.89 432.66,124.21 433.80,123.63 434.93,123.12 436.06,122.54 437.20,121.84 438.33,121.00 439.46,120.07 440.60,119.10 441.73,118.12 442.86,117.02 443.99,115.61 445.13,113.58 446.26,110.85 447.39,107.64 448.53,103.97 449.66,100.18 450.79,96.48 451.93,92.88 453.06,89.39 454.19,86.32 455.32,84.12 456.46,82.37 457.59,80.99 458.72,80.23 459.86,80.40 460.99,81.52 462.12,83.47 463.25,86.35 464.39,90.12 465.52,94.90 466.65,101.25 467.79,109.07 468.92,118.13 470.05,128.00 471.19,137.63 472.32,145.97 473.45,152.25 474.59,157.09 475.72,161.05 476.85,164.44 477.98,167.26 479.12,169.40 480.25,171.07 481.38,172.48 482.52,173.63 483.65,174.46 484.78,175.00 485.92,175.39 487.05,175.72 488.18,175.99 489.31,176.21 490.45,176.37 491.58,176.47 492.71,176.54 493.85,176.61 494.98,176.67 496.11,176.72 497.25,176.77 498.38,176.82 499.51,176.87 500.64,176.91 501.78,176.94 502.91,176.98 504.04,177.01 505.18,177.04 506.31,177.06 507.44,177.08 508.58,177.10 509.71,177.12 510.84,177.13 511.97,177.14 513.11,177.14 514.24,177.14 515.37,177.14 516.51,177.14 517.64,177.14 518.77,177.14 519.90,177.14 521.04,177.14 522.17,177.14 523.30,177.14 524.44,177.14 525.57,177.14 526.70,177.14 527.84,177.14 528.97,177.14 530.10,177.14 531.24,177.14 532.37,177.14 533.50,177.14 534.63,177.14 535.77,177.14 536.90,177.14" fill="none" stroke="#f0a040" stroke-width="1.1" stroke-linejoin="round" stroke-linecap="round" />
<polyline points="310.30,176.13 311.43,176.19 312.57,176.25 313.70,176.31 314.83,176.35 315.97,176.39 317.10,176.41 318.23,176.42 319.36,176.42 320.50,176.41 321.63,176.39 322.76,176.37 323.90,176.34 325.03,176.31 326.16,176.28 327.30,176.24 328.43,176.20 329.56,176.15 330.69,176.11 331.83,176.06 332.96,176.01 334.09,175.97 335.23,175.92 336.36,175.88 337.49,175.83 338.62,175.78 339.76,175.73 340.89,175.68 342.02,175.62 343.16,175.56 344.29,175.50 345.42,175.44 346.56,175.38 347.69,175.31 348.82,175.25 349.96,175.18 351.09,175.11 352.22,175.05 353.35,174.98 354.49,174.91 355.62,174.84 356.75,174.77 357.89,174.70 359.02,174.64 360.15,174.57 361.29,174.50 362.42,174.44 363.55,174.37 364.68,174.31 365.82,174.26 366.95,174.20 368.08,174.15 369.22,174.10 370.35,174.04 371.48,173.99 372.62,173.93 373.75,173.87 374.88,173.80 376.01,173.72 377.15,173.64 378.28,173.55 379.41,173.45 380.55,173.34 381.68,173.19 382.81,173.01 383.94,172.78 385.08,172.52 386.21,172.23 387.34,171.93 388.48,171.61 389.61,171.29 390.74,170.95 391.88,170.58 393.01,170.19 394.14,169.77 395.27,169.31 396.41,168.81 397.54,168.28 398.67,167.68 399.81,166.99 400.94,166.21 402.07,165.38 403.21,164.54 404.34,163.70 405.47,162.82 406.61,161.88 407.74,160.82 408.87,159.62 410.00,158.29 411.14,156.88 412.27,155.41 413.40,153.87 414.54,152.26 415.67,150.59 416.80,148.88 417.94,147.13 419.07,145.33 420.20,143.48 421.33,141.63 422.47,139.79 423.60,137.97 424.73,136.18 425.87,134.47 427.00,132.88 428.13,131.51 429.26,130.41 430.40,129.52 431.53,128.81 432.66,128.22 433.80,127.75 434.93,127.34 436.06,126.89 437.20,126.32 438.33,125.65 439.46,124.89 440.60,124.11 441.73,123.32 442.86,122.42 443.99,121.24 445.13,119.52 446.26,117.16 447.39,114.37 448.53,111.16 449.66,107.85 450.79,104.60 451.93,101.45 453.06,98.37 454.19,95.69 455.32,93.76 456.46,92.24 457.59,91.05 458.72,90.40 459.86,90.59 460.99,91.63 462.12,93.40 463.25,96.00 464.39,99.40 465.52,103.70 466.65,109.40 467.79,116.43 468.92,124.56 470.05,133.41 471.19,142.05 472.32,149.53 473.45,155.16 474.59,159.50 475.72,163.06 476.85,166.10 477.98,168.62 479.12,170.54 480.25,172.04 481.38,173.31 482.52,174.34 483.65,175.09 484.78,175.57 485.92,175.92 487.05,176.21 488.18,176.46 489.31,176.65 490.45,176.79 491.58,176.89 492.71,176.95 493.85,177.01 494.98,177.06 496.11,177.11 497.25,177.16 498.38,177.20 499.51,177.24 500.64,177.28 501.78,177.31 502.91,177.34 504.04,177.37 505.18,177.39 506.31,177.42 507.44,177.44 508.58,177.45 509.71,177.46 510.84,177.47 511.97,177.48 513.11,177.49 514.24,177.49 515.37,177.49 516.51,177.49 517.64,177.49 518.77,177.49 519.90,177.49 521.04,177.49 522.17,177.49 523.30,177.49 524.44,177.49 525.57,177.49 526.70,177.49 527.84,177.49 528.97,177.49 530.10,177.49 531.24,177.49 532.37,177.49 533.50,177.49 534.63,177.49 535.77,177.49 536.90,177.49" fill="none" stroke="#b0b0b0" stroke-width="1.1" stroke-linejoin="round" stroke-linecap="round" />
<polyline points="310.30,176.44 311.43,176.49 312.57,176.55 313.70,176.59 314.83,176.63 315.97,176.66 317.10,176.68 318.23,176.68 319.36,176.68 320.50,176.67 321.63,176.65 322.76,176.63 323.90,176.61 325.03,176.58 326.16,176.55 327.30,176.51 328.43,176.47 329.56,176.44 330.69,176.40 331.83,176.36 332.96,176.32 334.09,176.28 335.23,176.24 336.36,176.20 337.49,176.16 338.62,176.11 339.76,176.07 340.89,176.02 342.02,175.97 343.16,175.92 344.29,175.87 345.42,175.82 346.56,175.76 347.69,175.71 348.82,175.65 349.96,175.59 351.09,175.53 352.22,175.47 353.35,175.41 354.49,175.35 355.62,175.29 356.75,175.23 357.89,175.18 359.02,175.12 360.15,175.06 361.29,175.00 362.42,174.94 363.55,174.89 364.68,174.84 365.82,174.79 366.95,174.74 368.08,174.70 369.22,174.65 370.35,174.60 371.48,174.56 372.62,174.50 373.75,174.45 374.88,174.39 376.01,174.32 377.15,174.25 378.28,174.16 379.41,174.07 380.55,173.97 381.68,173.83 382.81,173.65 383.94,173.44 385.08,173.20 386.21,172.94 387.34,172.66 388.48,172.37 389.61,172.07 390.74,171.74 391.88,171.39 393.01,171.02 394.14,170.60 395.27,170.15 396.41,169.66 397.54,169.12 398.67,168.51 399.81,167.81 400.94,167.02 402.07,166.19 403.21,165.34 404.34,164.47 405.47,163.56 406.61,162.55 407.74,161.43 408.87,160.17 410.00,158.80 411.14,157.35 412.27,155.84 413.40,154.27 414.54,152.63 415.67,150.94 416.80,149.21 417.94,147.46 419.07,145.66 420.20,143.85 421.33,142.04 422.47,140.28 423.60,138.54 424.73,136.87 425.87,135.30 427.00,133.87 428.13,132.69 429.26,131.77 430.40,131.04 431.53,130.49 432.66,130.08 433.80,129.79 434.93,129.55 436.06,129.29 437.20,128.94 438.33,128.52 439.46,128.06 440.60,127.60 441.73,127.12 442.86,126.53 443.99,125.65 445.13,124.24 446.26,122.32 447.39,120.02 448.53,117.40 449.66,114.74 450.79,112.13 451.93,109.60 453.06,107.14 454.19,105.12 455.32,103.72 456.46,102.59 457.59,101.76 458.72,101.46 459.86,101.91 460.99,103.05 462.12,104.82 463.25,107.32 464.39,110.48 465.52,114.52 466.65,119.82 467.79,126.19 468.92,133.49 470.05,141.20 471.19,148.56 472.32,154.66 473.45,159.22 474.59,162.80 475.72,165.76 476.85,168.30 477.98,170.37 479.12,171.92 480.25,173.17 481.38,174.22 482.52,175.06 483.65,175.64 484.78,176.02 485.92,176.31 487.05,176.56 488.18,176.76 489.31,176.91 490.45,177.03 491.58,177.10 492.71,177.15 493.85,177.20 494.98,177.24 496.11,177.29 497.25,177.33 498.38,177.36 499.51,177.40 500.64,177.43 501.78,177.46 502.91,177.48 504.04,177.51 505.18,177.53 506.31,177.55 507.44,177.56 508.58,177.58 509.71,177.59 510.84,177.59 511.97,177.60 513.11,177.60 514.24,177.60 515.37,177.60 516.51,177.60 517.64,177.60 518.77,177.60 519.90,177.60 521.04,177.60 522.17,177.60 523.30,177.60 524.44,177.60 525.57,177.60 526.70,177.60 527.84,177.60 528.97,177.60 530.10,177.60 531.24,177.60 532.37,177.60 533.50,177.60 534.63,177.60 535.77,177.60 536.90,177.60" fill="none" stroke="#2030f0" stroke-width="1.3" stroke-linejoin="round" stroke-linecap="round" />
<polyline points="310.30,176.62 311.43,176.67 312.57,176.72 313.70,176.76 314.83,176.80 315.97,176.82 317.10,176.84 318.23,176.84 319.36,176.84 320.50,176.83 321.63,176.81 322.76,176.80 323.90,176.77 325.03,176.75 326.16,176.72 327.30,176.69 328.43,176.65 329.56,176.62 330.69,176.58 331.83,176.55 332.96,176.51 334.09,176.47 335.23,176.44 336.36,176.40 337.49,176.37 338.62,176.33 339.76,176.29 340.89,176.24 342.02,176.20 343.16,176.15 344.29,176.11 345.42,176.06 346.56,176.01 347.69,175.96 348.82,175.91 349.96,175.85 351.09,175.80 352.22,175.75 353.35,175.69 354.49,175.64 355.62,175.58 356.75,175.53 357.89,175.48 359.02,175.42 360.15,175.37 361.29,175.32 362.42,175.27 363.55,175.22 364.68,175.17 365.82,175.13 366.95,175.09 368.08,175.04 369.22,175.00 370.35,174.96 371.48,174.91 372.62,174.87 373.75,174.82 374.88,174.76 376.01,174.70 377.15,174.63 378.28,174.55 379.41,174.47 380.55,174.37 381.68,174.24 382.81,174.08 383.94,173.88 385.08,173.66 386.21,173.41 387.34,173.14 388.48,172.87 389.61,172.57 390.74,172.26 391.88,171.92 393.01,171.54 394.14,171.13 395.27,170.68 396.41,170.18 397.54,169.64 398.67,169.02 399.81,168.30 400.94,167.50 402.07,166.65 403.21,165.77 404.34,164.86 405.47,163.89 406.61,162.83 407.74,161.65 408.87,160.34 410.00,158.91 411.14,157.41 412.27,155.84 413.40,154.21 414.54,152.51 415.67,150.77 416.80,148.99 417.94,147.20 419.07,145.37 420.20,143.54 421.33,141.73 422.47,139.97 423.60,138.26 424.73,136.63 425.87,135.11 427.00,133.75 428.13,132.64 429.26,131.79 430.40,131.15 431.53,130.69 432.66,130.39 433.80,130.22 434.93,130.12 436.06,130.02 437.20,129.87 438.33,129.66 439.46,129.44 440.60,129.21 441.73,128.99 442.86,128.67 443.99,128.08 445.13,127.01 446.26,125.48 447.39,123.60 448.53,121.42 449.66,119.19 450.79,117.01 451.93,114.87 453.06,112.79 454.19,111.10 455.32,109.96 456.46,109.05 457.59,108.40 458.72,108.21 459.86,108.70 460.99,109.80 462.12,111.46 463.25,113.78 464.39,116.68 465.52,120.38 466.65,125.21 467.79,131.01 468.92,137.64 470.05,144.64 471.19,151.32 472.32,156.86 473.45,161.00 474.59,164.24 475.72,166.93 476.85,169.24 477.98,171.11 479.12,172.52 480.25,173.65 481.38,174.61 482.52,175.37 483.65,175.90 484.78,176.24 485.92,176.50 487.05,176.73 488.18,176.91 489.31,177.05 490.45,177.15 491.58,177.22 492.71,177.27 493.85,177.31 494.98,177.35 496.11,177.39 497.25,177.43 498.38,177.46 499.51,177.49 500.64,177.52 501.78,177.54 502.91,177.57 504.04,177.59 505.18,177.61 506.31,177.63 507.44,177.64 508.58,177.65 509.71,177.66 510.84,177.67 511.97,177.67 513.11,177.68 514.24,177.68 515.37,177.68 516.51,177.68 517.64,177.68 518.77,177.68 519.90,177.68 521.04,177.68 522.17,177.68 523.30,177.68 524.44,177.68 525.57,177.68 526.70,177.68 527.84,177.68 528.97,177.68 530.10,177.68 531.24,177.68 532.37,177.68 533.50,177.68 534.63,177.68 535.77,177.68 536.90,177.68" fill="none" stroke="#b07030" stroke-width="1.3" stroke-linejoin="round" stroke-linecap="round" />
<polyline points="310.30,176.81 311.43,176.85 312.57,176.90 313.70,176.93 314.83,176.96 315.97,176.98 317.10,176.99 318.23,177.00 319.36,176.99 320.50,176.98 321.63,176.97 322.76,176.95 323.90,176.93 325.03,176.91 326.16,176.88 327.30,176.85 328.43,176.82 329.56,176.79 330.69,176.75 331.83,176.72 332.96,176.69 334.09,176.66 335.23,176.63 336.36,176.59 337.49,176.56 338.62,176.52 339.76,176.49 340.89,176.45 342.02,176.41 343.16,176.37 344.29,176.32 345.42,176.28 346.56,176.24 347.69,176.19 348.82,176.14 349.96,176.10 351.09,176.05 352.22,176.00 353.35,175.95 354.49,175.90 355.62,175.85 356.75,175.81 357.89,175.76 359.02,175.71 360.15,175.66 361.29,175.62 362.42,175.57 363.55,175.53 364.68,175.49 365.82,175.45 366.95,175.41 368.08,175.37 369.22,175.33 370.35,175.29 371.48,175.25 372.62,175.21 373.75,175.16 374.88,175.11 376.01,175.06 377.15,175.00 378.28,174.93 379.41,174.85 380.55,174.76 381.68,174.63 382.81,174.48 383.94,174.30 385.08,174.10 386.21,173.88 387.34,173.65 388.48,173.40 389.61,173.15 390.74,172.87 391.88,172.58 393.01,172.25 394.14,171.90 395.27,171.51 396.41,171.08 397.54,170.61 398.67,170.08 399.81,169.46 400.94,168.77 402.07,168.06 403.21,167.33 404.34,166.57 405.47,165.76 406.61,164.87 407.74,163.87 408.87,162.75 410.00,161.55 411.14,160.29 412.27,158.97 413.40,157.59 414.54,156.16 415.67,154.70 416.80,153.20 417.94,151.68 419.07,150.13 420.20,148.58 421.33,147.04 422.47,145.54 423.60,144.07 424.73,142.67 425.87,141.37 427.00,140.21 428.13,139.28 429.26,138.55 430.40,137.99 431.53,137.58 432.66,137.29 433.80,137.09 434.93,136.93 436.06,136.75 437.20,136.51 438.33,136.22 439.46,135.91 440.60,135.61 441.73,135.28 442.86,134.84 443.99,134.11 445.13,132.93 446.26,131.37 447.39,129.51 448.53,127.42 449.66,125.34 450.79,123.31 451.93,121.32 453.06,119.43 454.19,117.99 455.32,116.98 456.46,116.15 457.59,115.62 458.72,115.55 459.86,116.10 460.99,117.18 462.12,118.80 463.25,121.00 464.39,123.74 465.52,127.29 466.65,131.86 467.79,137.25 468.92,143.35 470.05,149.63 471.19,155.44 472.32,160.08 473.45,163.55 474.59,166.32 475.72,168.64 476.85,170.62 477.98,172.20 479.12,173.39 480.25,174.36 481.38,175.18 482.52,175.81 483.65,176.24 484.78,176.52 485.92,176.75 487.05,176.94 488.18,177.09 489.31,177.21 490.45,177.29 491.58,177.35 492.71,177.39 493.85,177.43 494.98,177.46 496.11,177.50 497.25,177.53 498.38,177.56 499.51,177.59 500.64,177.61 501.78,177.63 502.91,177.65 504.04,177.67 505.18,177.69 506.31,177.70 507.44,177.72 508.58,177.73 509.71,177.73 510.84,177.74 511.97,177.74 513.11,177.75 514.24,177.75 515.37,177.75 516.51,177.75 517.64,177.75 518.77,177.75 519.90,177.75 521.04,177.75 522.17,177.75 523.30,177.75 524.44,177.75 525.57,177.75 526.70,177.75 527.84,177.75 528.97,177.75 530.10,177.75 531.24,177.75 532.37,177.75 533.50,177.75 534.63,177.75 535.77,177.75 536.90,177.75" fill="none" stroke="#cc33cc" stroke-width="1.3" stroke-linejoin="round" stroke-linecap="round" />
<line x1="459.57" y1="34.09" x2="459.57" y2="55.87" stroke="#777" stroke-width="0.7" stroke-dasharray="1,1.2"/>
<rect x="307.60" y="20.00" width="231.80" height="157.40" fill="none" stroke="#111" stroke-width="1.3"/>
<line x1="310.30" y1="177.40" x2="310.30" y2="174.40" stroke="#111" stroke-width="1" />
<line x1="324.46" y1="177.40" x2="324.46" y2="175.40" stroke="#111" stroke-width="1" />
<line x1="338.62" y1="177.40" x2="338.62" y2="174.40" stroke="#111" stroke-width="1" />
<line x1="352.79" y1="177.40" x2="352.79" y2="175.40" stroke="#111" stroke-width="1" />
<line x1="366.95" y1="177.40" x2="366.95" y2="174.40" stroke="#111" stroke-width="1" />
<line x1="381.11" y1="177.40" x2="381.11" y2="175.40" stroke="#111" stroke-width="1" />
<line x1="395.27" y1="177.40" x2="395.27" y2="174.40" stroke="#111" stroke-width="1" />
<line x1="409.44" y1="177.40" x2="409.44" y2="175.40" stroke="#111" stroke-width="1" />
<line x1="423.60" y1="177.40" x2="423.60" y2="174.40" stroke="#111" stroke-width="1" />
<line x1="437.76" y1="177.40" x2="437.76" y2="175.40" stroke="#111" stroke-width="1" />
<line x1="451.93" y1="177.40" x2="451.93" y2="174.40" stroke="#111" stroke-width="1" />
<line x1="466.09" y1="177.40" x2="466.09" y2="175.40" stroke="#111" stroke-width="1" />
<line x1="480.25" y1="177.40" x2="480.25" y2="174.40" stroke="#111" stroke-width="1" />
<line x1="494.41" y1="177.40" x2="494.41" y2="175.40" stroke="#111" stroke-width="1" />
<line x1="508.58" y1="177.40" x2="508.58" y2="174.40" stroke="#111" stroke-width="1" />
<line x1="522.74" y1="177.40" x2="522.74" y2="175.40" stroke="#111" stroke-width="1" />
<line x1="536.90" y1="177.40" x2="536.90" y2="174.40" stroke="#111" stroke-width="1" />
<line x1="307.60" y1="177.40" x2="310.60" y2="177.40" stroke="#111" stroke-width="1" />
<line x1="307.60" y1="165.25" x2="309.60" y2="165.25" stroke="#111" stroke-width="1" />
<line x1="307.60" y1="153.10" x2="310.60" y2="153.10" stroke="#111" stroke-width="1" />
<line x1="307.60" y1="140.95" x2="309.60" y2="140.95" stroke="#111" stroke-width="1" />
<line x1="307.60" y1="128.80" x2="310.60" y2="128.80" stroke="#111" stroke-width="1" />
<line x1="307.60" y1="116.65" x2="309.60" y2="116.65" stroke="#111" stroke-width="1" />
<line x1="307.60" y1="104.50" x2="310.60" y2="104.50" stroke="#111" stroke-width="1" />
<line x1="307.60" y1="92.35" x2="309.60" y2="92.35" stroke="#111" stroke-width="1" />
<line x1="307.60" y1="80.20" x2="310.60" y2="80.20" stroke="#111" stroke-width="1" />
<line x1="307.60" y1="68.05" x2="309.60" y2="68.05" stroke="#111" stroke-width="1" />
<line x1="307.60" y1="55.90" x2="310.60" y2="55.90" stroke="#111" stroke-width="1" />
<line x1="307.60" y1="43.75" x2="309.60" y2="43.75" stroke="#111" stroke-width="1" />
<line x1="307.60" y1="31.60" x2="310.60" y2="31.60" stroke="#111" stroke-width="1" />
<text x="310.30" y="187.70" font-size="8.2" font-weight="bold" text-anchor="middle" fill="#111" font-family="'Liberation Sans', Arial, sans-serif" stroke="#111" stroke-width="0.22">400</text>
<text x="338.62" y="187.70" font-size="8.2" font-weight="bold" text-anchor="middle" fill="#111" font-family="'Liberation Sans', Arial, sans-serif" stroke="#111" stroke-width="0.22">450</text>
<text x="366.95" y="187.70" font-size="8.2" font-weight="bold" text-anchor="middle" fill="#111" font-family="'Liberation Sans', Arial, sans-serif" stroke="#111" stroke-width="0.22">500</text>
<text x="395.27" y="187.70" font-size="8.2" font-weight="bold" text-anchor="middle" fill="#111" font-family="'Liberation Sans', Arial, sans-serif" stroke="#111" stroke-width="0.22">550</text>
<text x="423.60" y="187.70" font-size="8.2" font-weight="bold" text-anchor="middle" fill="#111" font-family="'Liberation Sans', Arial, sans-serif" stroke="#111" stroke-width="0.22">600</text>
<text x="451.93" y="187.70" font-size="8.2" font-weight="bold" text-anchor="middle" fill="#111" font-family="'Liberation Sans', Arial, sans-serif" stroke="#111" stroke-width="0.22">650</text>
<text x="480.25" y="187.70" font-size="8.2" font-weight="bold" text-anchor="middle" fill="#111" font-family="'Liberation Sans', Arial, sans-serif" stroke="#111" stroke-width="0.22">700</text>
<text x="508.58" y="187.70" font-size="8.2" font-weight="bold" text-anchor="middle" fill="#111" font-family="'Liberation Sans', Arial, sans-serif" stroke="#111" stroke-width="0.22">750</text>
<text x="536.90" y="187.70" font-size="8.2" font-weight="bold" text-anchor="middle" fill="#111" font-family="'Liberation Sans', Arial, sans-serif" stroke="#111" stroke-width="0.22">800</text>
<text x="304.40" y="180.30" font-size="8.2" font-weight="bold" text-anchor="end" fill="#111" font-family="'Liberation Sans', Arial, sans-serif" stroke="#111" stroke-width="0.22">0.00</text>
<text x="304.40" y="156.00" font-size="8.2" font-weight="bold" text-anchor="end" fill="#111" font-family="'Liberation Sans', Arial, sans-serif" stroke="#111" stroke-width="0.22">0.05</text>
<text x="304.40" y="131.70" font-size="8.2" font-weight="bold" text-anchor="end" fill="#111" font-family="'Liberation Sans', Arial, sans-serif" stroke="#111" stroke-width="0.22">0.10</text>
<text x="304.40" y="107.40" font-size="8.2" font-weight="bold" text-anchor="end" fill="#111" font-family="'Liberation Sans', Arial, sans-serif" stroke="#111" stroke-width="0.22">0.15</text>
<text x="304.40" y="83.10" font-size="8.2" font-weight="bold" text-anchor="end" fill="#111" font-family="'Liberation Sans', Arial, sans-serif" stroke="#111" stroke-width="0.22">0.20</text>
<text x="304.40" y="58.80" font-size="8.2" font-weight="bold" text-anchor="end" fill="#111" font-family="'Liberation Sans', Arial, sans-serif" stroke="#111" stroke-width="0.22">0.25</text>
<text x="304.40" y="34.50" font-size="8.2" font-weight="bold" text-anchor="end" fill="#111" font-family="'Liberation Sans', Arial, sans-serif" stroke="#111" stroke-width="0.22">0.30</text>
<text x="327.60" y="42.30" font-size="6.5" font-weight="bold" text-anchor="start" fill="#111" font-family="'Liberation Sans', Arial, sans-serif" stroke="#111" stroke-width="0.22">PVDF-HFP@TiO<tspan font-size="4.5" dy="1.5">2</tspan></text>
<line x1="326.60" y1="50.60" x2="343.90" y2="50.60" stroke="#35a8e0" stroke-width="1.3" />
<text x="347.00" y="53.30" font-size="7.6" font-weight="normal" text-anchor="start" fill="#222" font-family="'Liberation Sans', Arial, sans-serif" stroke="#222" stroke-width="0.22">MB</text>
<line x1="326.60" y1="60.15" x2="343.90" y2="60.15" stroke="#e8903c" stroke-width="1.3" />
<text x="347.00" y="62.85" font-size="7.6" font-weight="normal" text-anchor="start" fill="#222" font-family="'Liberation Sans', Arial, sans-serif" stroke="#222" stroke-width="0.22">0 min</text>
<line x1="326.60" y1="69.70" x2="343.90" y2="69.70" stroke="#2aa845" stroke-width="1.3" />
<text x="347.00" y="72.40" font-size="7.6" font-weight="normal" text-anchor="start" fill="#222" font-family="'Liberation Sans', Arial, sans-serif" stroke="#222" stroke-width="0.22">30 min</text>
<line x1="326.60" y1="79.25" x2="343.90" y2="79.25" stroke="#f0a040" stroke-width="1.3" />
<text x="347.00" y="81.95" font-size="7.6" font-weight="normal" text-anchor="start" fill="#222" font-family="'Liberation Sans', Arial, sans-serif" stroke="#222" stroke-width="0.22">60 min</text>
<line x1="326.60" y1="88.80" x2="343.90" y2="88.80" stroke="#b0b0b0" stroke-width="1.3" />
<text x="347.00" y="91.50" font-size="7.6" font-weight="normal" text-anchor="start" fill="#222" font-family="'Liberation Sans', Arial, sans-serif" stroke="#222" stroke-width="0.22">120 min</text>
<line x1="326.60" y1="98.35" x2="343.90" y2="98.35" stroke="#2030f0" stroke-width="1.3" />
<text x="347.00" y="101.05" font-size="7.6" font-weight="normal" text-anchor="start" fill="#222" font-family="'Liberation Sans', Arial, sans-serif" stroke="#222" stroke-width="0.22">180 min</text>
<line x1="326.60" y1="107.90" x2="343.90" y2="107.90" stroke="#b07030" stroke-width="1.3" />
<text x="347.00" y="110.60" font-size="7.6" font-weight="normal" text-anchor="start" fill="#222" font-family="'Liberation Sans', Arial, sans-serif" stroke="#222" stroke-width="0.22">240 min</text>
<line x1="326.60" y1="117.45" x2="343.90" y2="117.45" stroke="#cc33cc" stroke-width="1.3" />
<text x="347.00" y="120.15" font-size="7.6" font-weight="normal" text-anchor="start" fill="#222" font-family="'Liberation Sans', Arial, sans-serif" stroke="#222" stroke-width="0.22">300 min</text>
<text x="475.60" y="46.00" font-size="6.6" font-weight="bold" text-anchor="start" fill="#111" font-family="'Liberation Sans', Arial, sans-serif" stroke="#111" stroke-width="0.22">Adsorption</text>
<text x="475.60" y="54.30" font-size="6.6" font-weight="bold" text-anchor="start" fill="#111" font-family="'Liberation Sans', Arial, sans-serif" stroke="#111" stroke-width="0.22">(30 min)</text>
<text x="289.00" y="14.30" font-size="11.8" font-weight="bold" text-anchor="start" fill="#111" font-family="'Liberation Serif', 'Times New Roman', serif" stroke="#111" stroke-width="0.35">(b)</text>
<text x="423.40" y="199.10" font-size="7.6" font-weight="bold" text-anchor="middle" fill="#111" font-family="'Liberation Sans', Arial, sans-serif" stroke="#111" stroke-width="0.22">Wavelenght (nm)</text>
<text transform="translate(283.5,107) rotate(-90)" font-size="7.8" font-weight="bold" text-anchor="middle" fill="#111" stroke="#111" stroke-width="0.22" font-family="'Liberation Sans', Arial, sans-serif">Absorbance (a.u.)</text>
<defs><clipPath id="cc"><rect x="33.6" y="208.5" width="236.6" height="157.10000000000002"/></clipPath></defs><g clip-path="url(#cc)">
<polyline points="34.00,243.40 55.86,252.13 77.72,252.83 121.44,264.35 165.17,268.54 208.89,274.30 252.61,278.32" fill="none" stroke="#666" stroke-width="0.7" stroke-linejoin="round" stroke-linecap="round" />
<polygon points="34.00,240.40 37.00,243.40 34.00,246.40 31.00,243.40" fill="#111"/>
<polygon points="55.86,249.13 58.86,252.13 55.86,255.13 52.86,252.13" fill="#111"/>
<polygon points="77.72,249.83 80.72,252.83 77.72,255.83 74.72,252.83" fill="#111"/>
<polygon points="121.44,261.35 124.44,264.35 121.44,267.35 118.44,264.35" fill="#111"/>
<polygon points="165.17,265.54 168.17,268.54 165.17,271.54 162.17,268.54" fill="#111"/>
<polygon points="208.89,271.30 211.89,274.30 208.89,277.30 205.89,274.30" fill="#111"/>
<polygon points="252.61,275.32 255.61,278.32 252.61,281.32 249.61,278.32" fill="#111"/>
<polyline points="34.00,243.40 55.86,263.48 77.72,278.32 121.44,292.64 165.17,309.05 208.89,321.10 252.61,332.45" fill="none" stroke="#f07070" stroke-width="0.7" stroke-linejoin="round" stroke-linecap="round" />
<circle cx="34.00" cy="243.40" r="2.5" fill="#ee1111"/>
<circle cx="55.86" cy="263.48" r="2.5" fill="#ee1111"/>
<circle cx="77.72" cy="278.32" r="2.5" fill="#ee1111"/>
<circle cx="121.44" cy="292.64" r="2.5" fill="#ee1111"/>
<circle cx="165.17" cy="309.05" r="2.5" fill="#ee1111"/>
<circle cx="208.89" cy="321.10" r="2.5" fill="#ee1111"/>
<circle cx="252.61" cy="332.45" r="2.5" fill="#ee1111"/>
</g>
<rect x="33.60" y="208.50" width="236.60" height="157.10" fill="none" stroke="#111" stroke-width="1.3"/>
<line x1="34.00" y1="365.60" x2="34.00" y2="362.10" stroke="#111" stroke-width="1" />
<line x1="52.22" y1="365.60" x2="52.22" y2="363.60" stroke="#111" stroke-width="1" />
<line x1="70.44" y1="365.60" x2="70.44" y2="362.10" stroke="#111" stroke-width="1" />
<line x1="88.65" y1="365.60" x2="88.65" y2="363.60" stroke="#111" stroke-width="1" />
<line x1="106.87" y1="365.60" x2="106.87" y2="362.10" stroke="#111" stroke-width="1" />
<line x1="125.09" y1="365.60" x2="125.09" y2="363.60" stroke="#111" stroke-width="1" />
<line x1="143.31" y1="365.60" x2="143.31" y2="362.10" stroke="#111" stroke-width="1" />
<line x1="161.52" y1="365.60" x2="161.52" y2="363.60" stroke="#111" stroke-width="1" />
<line x1="179.74" y1="365.60" x2="179.74" y2="362.10" stroke="#111" stroke-width="1" />
<line x1="197.96" y1="365.60" x2="197.96" y2="363.60" stroke="#111" stroke-width="1" />
<line x1="216.18" y1="365.60" x2="216.18" y2="362.10" stroke="#111" stroke-width="1" />
<line x1="234.39" y1="365.60" x2="234.39" y2="363.60" stroke="#111" stroke-width="1" />
<line x1="252.61" y1="365.60" x2="252.61" y2="362.10" stroke="#111" stroke-width="1" />
<line x1="33.60" y1="365.62" x2="35.60" y2="365.62" stroke="#111" stroke-width="1" />
<line x1="33.60" y1="348.16" x2="37.10" y2="348.16" stroke="#111" stroke-width="1" />
<line x1="33.60" y1="330.70" x2="35.60" y2="330.70" stroke="#111" stroke-width="1" />
<line x1="33.60" y1="313.24" x2="37.10" y2="313.24" stroke="#111" stroke-width="1" />
<line x1="33.60" y1="295.78" x2="35.60" y2="295.78" stroke="#111" stroke-width="1" />
<line x1="33.60" y1="278.32" x2="37.10" y2="278.32" stroke="#111" stroke-width="1" />
<line x1="33.60" y1="260.86" x2="35.60" y2="260.86" stroke="#111" stroke-width="1" />
<line x1="33.60" y1="243.40" x2="37.10" y2="243.40" stroke="#111" stroke-width="1" />
<line x1="33.60" y1="225.94" x2="35.60" y2="225.94" stroke="#111" stroke-width="1" />
<line x1="33.60" y1="208.48" x2="37.10" y2="208.48" stroke="#111" stroke-width="1" />
<text x="34.00" y="377.00" font-size="8.9" font-weight="bold" text-anchor="middle" fill="#111" font-family="'Liberation Sans', Arial, sans-serif" stroke="#111" stroke-width="0.22">0</text>
<text x="70.44" y="377.00" font-size="8.9" font-weight="bold" text-anchor="middle" fill="#111" font-family="'Liberation Sans', Arial, sans-serif" stroke="#111" stroke-width="0.22">50</text>
<text x="106.87" y="377.00" font-size="8.9" font-weight="bold" text-anchor="middle" fill="#111" font-family="'Liberation Sans', Arial, sans-serif" stroke="#111" stroke-width="0.22">100</text>
<text x="143.31" y="377.00" font-size="8.9" font-weight="bold" text-anchor="middle" fill="#111" font-family="'Liberation Sans', Arial, sans-serif" stroke="#111" stroke-width="0.22">150</text>
<text x="179.74" y="377.00" font-size="8.9" font-weight="bold" text-anchor="middle" fill="#111" font-family="'Liberation Sans', Arial, sans-serif" stroke="#111" stroke-width="0.22">200</text>
<text x="216.18" y="377.00" font-size="8.9" font-weight="bold" text-anchor="middle" fill="#111" font-family="'Liberation Sans', Arial, sans-serif" stroke="#111" stroke-width="0.22">250</text>
<text x="252.61" y="377.00" font-size="8.9" font-weight="bold" text-anchor="middle" fill="#111" font-family="'Liberation Sans', Arial, sans-serif" stroke="#111" stroke-width="0.22">300</text>
<text x="30.60" y="350.76" font-size="8.9" font-weight="bold" text-anchor="end" fill="#111" font-family="'Liberation Sans', Arial, sans-serif" stroke="#111" stroke-width="0.22">0.4</text>
<text x="30.60" y="315.84" font-size="8.9" font-weight="bold" text-anchor="end" fill="#111" font-family="'Liberation Sans', Arial, sans-serif" stroke="#111" stroke-width="0.22">0.6</text>
<text x="30.60" y="280.92" font-size="8.9" font-weight="bold" text-anchor="end" fill="#111" font-family="'Liberation Sans', Arial, sans-serif" stroke="#111" stroke-width="0.22">0.8</text>
<text x="30.60" y="246.00" font-size="8.9" font-weight="bold" text-anchor="end" fill="#111" font-family="'Liberation Sans', Arial, sans-serif" stroke="#111" stroke-width="0.22">1.0</text>
<text x="30.60" y="211.08" font-size="8.9" font-weight="bold" text-anchor="end" fill="#111" font-family="'Liberation Sans', Arial, sans-serif" stroke="#111" stroke-width="0.22">1.2</text>
<line x1="177.00" y1="227.80" x2="193.00" y2="227.80" stroke="#aaa" stroke-width="0.8" />
<polygon points="185,225.6 187.2,227.8 185,230 182.8,227.8" fill="#111"/>
<line x1="177.00" y1="237.60" x2="193.00" y2="237.60" stroke="#f4a0a0" stroke-width="0.8" />
<circle cx="185" cy="237.6" r="2.0" fill="#ee1111"/>
<text x="196.00" y="230.60" font-size="7.6" font-weight="bold" text-anchor="start" fill="#111" font-family="'Liberation Sans', Arial, sans-serif" stroke="#111" stroke-width="0.22">PVDF-HFP</text>
<text x="196.00" y="240.40" font-size="7.6" font-weight="bold" text-anchor="start" fill="#111" font-family="'Liberation Sans', Arial, sans-serif" stroke="#111" stroke-width="0.22">PVDF-HFP@TiO<tspan font-size="4.8" dy="1.8">2</tspan></text>
<text x="19.00" y="199.80" font-size="11.8" font-weight="bold" text-anchor="start" fill="#111" font-family="'Liberation Serif', 'Times New Roman', serif" stroke="#111" stroke-width="0.35">(c)</text>
<text x="135.3" y="384" font-size="8.2" font-weight="bold" fill="#111" stroke="#111" stroke-width="0.22" font-family="'Liberation Sans', Arial, sans-serif"><tspan font-style="italic">Time</tspan> (min)</text>
<text transform="translate(16.3,315.3) rotate(-90)" font-size="8.4" font-weight="bold" fill="#111" stroke="#111" stroke-width="0.22" font-family="'Liberation Sans', Arial, sans-serif">MB<tspan font-size="5" dy="2">t</tspan><tspan dy="-2">/MB</tspan><tspan font-size="5" dy="2">0</tspan></text>
<line x1="305.40" y1="229.49" x2="539.40" y2="229.49" stroke="#e03030" stroke-width="0.8" stroke-dasharray="3,1.5,0.8,1.5"/>
<line x1="399.24" y1="207.00" x2="399.24" y2="364.40" stroke="#e03030" stroke-width="0.8" stroke-dasharray="3,1.5,0.8,1.5"/>
<line x1="305.40" y1="341.94" x2="539.40" y2="341.94" stroke="#30a0c8" stroke-width="0.8" stroke-dasharray="1,1.5"/>
<circle cx="333.60" cy="236.01" r="2.6" fill="#111"/>
<circle cx="352.38" cy="229.49" r="2.6" fill="#111"/>
<circle cx="431.94" cy="229.49" r="2.6" fill="#111"/>
<text x="326.00" y="222.60" font-size="7.9" font-weight="bold" text-anchor="start" fill="#e8202a" font-family="'Liberation Sans', Arial, sans-serif" stroke="#e8202a" stroke-width="0.22">FFP3 mask <tspan font-weight="normal" stroke-width="0">≥</tspan> 99%</text>
<text x="316.00" y="337.60" font-size="7.9" font-weight="bold" text-anchor="start" fill="#2a90d0" font-family="'Liberation Sans', Arial, sans-serif" stroke="#2a90d0" stroke-width="0.22">FFP2 mask <tspan font-weight="normal" stroke-width="0">≥</tspan> 94%</text>
<rect x="305.40" y="207.00" width="234.00" height="157.40" fill="none" stroke="#111" stroke-width="1.3"/>
<line x1="305.80" y1="364.40" x2="305.80" y2="360.90" stroke="#111" stroke-width="1" />
<line x1="329.16" y1="364.40" x2="329.16" y2="362.40" stroke="#111" stroke-width="1" />
<line x1="352.52" y1="364.40" x2="352.52" y2="360.90" stroke="#111" stroke-width="1" />
<line x1="375.88" y1="364.40" x2="375.88" y2="362.40" stroke="#111" stroke-width="1" />
<line x1="399.24" y1="364.40" x2="399.24" y2="360.90" stroke="#111" stroke-width="1" />
<line x1="422.60" y1="364.40" x2="422.60" y2="362.40" stroke="#111" stroke-width="1" />
<line x1="445.96" y1="364.40" x2="445.96" y2="360.90" stroke="#111" stroke-width="1" />
<line x1="469.32" y1="364.40" x2="469.32" y2="362.40" stroke="#111" stroke-width="1" />
<line x1="492.68" y1="364.40" x2="492.68" y2="360.90" stroke="#111" stroke-width="1" />
<line x1="516.04" y1="364.40" x2="516.04" y2="362.40" stroke="#111" stroke-width="1" />
<line x1="539.40" y1="364.40" x2="539.40" y2="360.90" stroke="#111" stroke-width="1" />
<line x1="305.40" y1="364.43" x2="308.90" y2="364.43" stroke="#111" stroke-width="1" />
<line x1="305.40" y1="353.19" x2="307.40" y2="353.19" stroke="#111" stroke-width="1" />
<line x1="305.40" y1="341.94" x2="308.90" y2="341.94" stroke="#111" stroke-width="1" />
<line x1="305.40" y1="330.69" x2="307.40" y2="330.69" stroke="#111" stroke-width="1" />
<line x1="305.40" y1="319.45" x2="308.90" y2="319.45" stroke="#111" stroke-width="1" />
<line x1="305.40" y1="308.20" x2="307.40" y2="308.20" stroke="#111" stroke-width="1" />
<line x1="305.40" y1="296.96" x2="308.90" y2="296.96" stroke="#111" stroke-width="1" />
<line x1="305.40" y1="285.71" x2="307.40" y2="285.71" stroke="#111" stroke-width="1" />
<line x1="305.40" y1="274.47" x2="308.90" y2="274.47" stroke="#111" stroke-width="1" />
<line x1="305.40" y1="263.23" x2="307.40" y2="263.23" stroke="#111" stroke-width="1" />
<line x1="305.40" y1="251.98" x2="308.90" y2="251.98" stroke="#111" stroke-width="1" />
<line x1="305.40" y1="240.74" x2="307.40" y2="240.74" stroke="#111" stroke-width="1" />
<line x1="305.40" y1="229.49" x2="308.90" y2="229.49" stroke="#111" stroke-width="1" />
<line x1="305.40" y1="218.25" x2="307.40" y2="218.25" stroke="#111" stroke-width="1" />
<line x1="305.40" y1="207.00" x2="308.90" y2="207.00" stroke="#111" stroke-width="1" />
<text x="305.80" y="374.60" font-size="8.0" font-weight="bold" text-anchor="middle" fill="#111" font-family="'Liberation Sans', Arial, sans-serif" stroke="#111" stroke-width="0.22">2.8</text>
<text x="352.52" y="374.60" font-size="8.0" font-weight="bold" text-anchor="middle" fill="#111" font-family="'Liberation Sans', Arial, sans-serif" stroke="#111" stroke-width="0.22">2.9</text>
<text x="399.24" y="374.60" font-size="8.0" font-weight="bold" text-anchor="middle" fill="#111" font-family="'Liberation Sans', Arial, sans-serif" stroke="#111" stroke-width="0.22">3.0</text>
<text x="445.96" y="374.60" font-size="8.0" font-weight="bold" text-anchor="middle" fill="#111" font-family="'Liberation Sans', Arial, sans-serif" stroke="#111" stroke-width="0.22">3.1</text>
<text x="492.68" y="374.60" font-size="8.0" font-weight="bold" text-anchor="middle" fill="#111" font-family="'Liberation Sans', Arial, sans-serif" stroke="#111" stroke-width="0.22">3.2</text>
<text x="539.40" y="374.60" font-size="8.0" font-weight="bold" text-anchor="middle" fill="#111" font-family="'Liberation Sans', Arial, sans-serif" stroke="#111" stroke-width="0.22">3.3</text>
<text x="302.00" y="367.03" font-size="7.6" font-weight="bold" text-anchor="end" fill="#111" font-family="'Liberation Sans', Arial, sans-serif" stroke="#111" stroke-width="0.22">93</text>
<text x="302.00" y="344.54" font-size="7.6" font-weight="bold" text-anchor="end" fill="#111" font-family="'Liberation Sans', Arial, sans-serif" stroke="#111" stroke-width="0.22">94</text>
<text x="302.00" y="322.05" font-size="7.6" font-weight="bold" text-anchor="end" fill="#111" font-family="'Liberation Sans', Arial, sans-serif" stroke="#111" stroke-width="0.22">95</text>
<text x="302.00" y="299.56" font-size="7.6" font-weight="bold" text-anchor="end" fill="#111" font-family="'Liberation Sans', Arial, sans-serif" stroke="#111" stroke-width="0.22">96</text>
<text x="302.00" y="277.07" font-size="7.6" font-weight="bold" text-anchor="end" fill="#111" font-family="'Liberation Sans', Arial, sans-serif" stroke="#111" stroke-width="0.22">97</text>
<text x="302.00" y="254.58" font-size="7.6" font-weight="bold" text-anchor="end" fill="#111" font-family="'Liberation Sans', Arial, sans-serif" stroke="#111" stroke-width="0.22">98</text>
<text x="302.00" y="232.09" font-size="7.6" font-weight="bold" text-anchor="end" fill="#111" font-family="'Liberation Sans', Arial, sans-serif" stroke="#111" stroke-width="0.22">99</text>
<text x="302.00" y="209.60" font-size="7.6" font-weight="bold" text-anchor="end" fill="#111" font-family="'Liberation Sans', Arial, sans-serif" stroke="#111" stroke-width="0.22">100</text>
<rect x="445" y="237.4" width="81.4" height="23" fill="#fff" stroke="#999" stroke-width="0.7"/>
<circle cx="456" cy="243" r="2.2" fill="#111"/>
<text x="464.40" y="245.50" font-size="7" font-weight="bold" text-anchor="start" fill="#111" font-family="'Liberation Sans', Arial, sans-serif" stroke="#111" stroke-width="0.22">PVDF-HFP@TiO<tspan font-size="4.5" dy="1.5">2</tspan></text>
<text x="454.00" y="258.00" font-size="7" font-weight="bold" text-anchor="start" fill="#111" font-family="'Liberation Sans', Arial, sans-serif" stroke="#111" stroke-width="0.22">Flow rate: 95 L min<tspan font-size="4.5" dy="-3">-1</tspan></text>
<text x="288.20" y="197.80" font-size="11.8" font-weight="bold" text-anchor="start" fill="#111" font-family="'Liberation Serif', 'Times New Roman', serif" stroke="#111" stroke-width="0.35">(d)</text>
<text x="421.60" y="381.50" font-size="7.5" font-weight="bold" text-anchor="middle" fill="#111" font-family="'Liberation Sans', Arial, sans-serif" stroke="#111" stroke-width="0.22">Pressure drop (ΔP) (mbar)</text>
<text transform="translate(290.2,295) rotate(-90)" font-size="7.9" font-weight="bold" text-anchor="middle" fill="#111" stroke="#111" stroke-width="0.22" font-family="'Liberation Sans', Arial, sans-serif">Filtration efficiency (%)</text>
<polyline points="36.71,536.37 38.14,536.57 39.57,536.59 40.99,535.89 42.42,534.42 43.85,532.67 45.28,530.21 46.70,527.23 48.13,523.54 49.56,519.19 50.98,514.82 52.41,510.20 53.84,505.99 55.26,502.59 56.69,499.52 58.12,496.82 59.55,494.52 60.97,492.55 62.40,490.79 63.83,489.20 65.25,487.74 66.68,486.37 68.11,485.08 69.53,483.86 70.96,482.71 72.39,481.63 73.81,480.59 75.24,479.60 76.67,478.65 78.10,477.74 79.52,476.86 80.95,476.02 82.38,475.20 83.80,474.40 85.23,473.62 86.66,472.84 88.08,472.07 89.51,471.31 90.94,470.55 92.36,469.81 93.79,469.08 95.22,468.36 96.65,467.65 98.07,466.94 99.50,466.24 100.93,465.54 102.35,464.84 103.78,464.14 105.21,463.45 106.63,462.75 108.06,462.06 109.49,461.37 110.91,460.68 112.34,460.00 113.77,459.33 115.20,458.67 116.62,458.01 118.05,457.36 119.48,456.72 120.90,456.10 122.33,455.48 123.76,454.87 125.18,454.27 126.61,453.66 128.04,453.05 129.47,452.43 130.89,451.80 132.32,451.17 133.75,450.53 135.17,449.89 136.60,449.24 138.03,448.59 139.45,447.94 140.88,447.29 142.31,446.64 143.73,445.99 145.16,445.35 146.59,444.70 148.02,444.06 149.44,443.43 150.87,442.79 152.30,442.17 153.72,441.55 155.15,440.94 156.58,440.33 158.00,439.73 159.43,439.14 160.86,438.55 162.28,437.96 163.71,437.37 165.14,436.79 166.57,436.22 167.99,435.64 169.42,435.07 170.85,434.50 172.27,433.93 173.70,433.37 175.13,432.80 176.55,432.24 177.98,431.68 179.41,431.13 180.84,430.57 182.26,430.01 183.69,429.45 185.12,428.88 186.54,428.31 187.97,427.75 189.40,427.18 190.82,426.61 192.25,426.05 193.68,425.49 195.10,424.94 196.53,424.39 197.96,423.86 199.39,423.33 200.81,422.82 202.24,422.31 203.67,421.82 205.09,421.35 206.52,420.89 207.95,420.44 209.37,420.01 210.80,419.58 212.23,419.15 213.65,418.74 215.08,418.33 216.51,417.93 217.94,417.54 219.36,417.15 220.79,416.77 222.22,416.40 223.64,416.03 225.07,415.66 226.50,415.30 227.92,414.95 229.35,414.60 230.78,414.25 232.21,413.90 233.63,413.57 235.06,413.23 236.49,412.90 237.91,412.58 239.34,412.26 240.77,411.95 242.19,411.65 243.62,411.35 245.05,411.06 246.47,410.78 247.90,410.50 249.33,410.22 250.76,409.95 252.18,409.69 253.61,409.44 255.04,409.20 256.46,408.99 257.89,408.80 259.32,408.62 260.74,408.47 262.17,408.32 263.60,408.20" fill="none" stroke="#ee2222" stroke-width="1.3" stroke-linejoin="round" stroke-linecap="round" />
<polyline points="36.00,533.69 37.34,528.01 38.67,522.89 40.01,518.42 41.34,514.46 42.68,510.95 44.01,507.82 45.35,504.92 46.69,502.27 48.02,499.91 49.36,497.84 50.69,495.95 52.03,494.22 53.36,492.61 54.70,491.12 56.03,489.72 57.37,488.39 58.71,487.13 60.04,485.94 61.38,484.81 62.71,483.74 64.05,482.72 65.38,481.75 66.72,480.83 68.06,479.95 69.39,479.11 70.73,478.30 72.06,477.52 73.40,476.76 74.73,476.01 76.07,475.28 77.40,474.57 78.74,473.88 80.08,473.22 81.41,472.57 82.75,471.93 84.08,471.30 85.42,470.67 86.75,470.02 88.09,469.37 89.43,468.70 90.76,468.03 92.10,467.34 93.43,466.65 94.77,465.96 96.10,465.27 97.44,464.58 98.77,463.90 100.11,463.23 101.45,462.58 102.78,461.95 104.12,461.33 105.45,460.74 106.79,460.16 108.12,459.59 109.46,459.03 110.80,458.48 112.13,457.92 113.47,457.36 114.80,456.79 116.14,456.21 117.47,455.61 118.81,454.99 120.15,454.35 121.48,453.70 122.82,453.04 124.15,452.37 125.49,451.71 126.82,451.05 128.16,450.39 129.49,449.75 130.83,449.12 132.17,448.50 133.50,447.88 134.84,447.26 136.17,446.64 137.51,446.03 138.84,445.42 140.18,444.81 141.52,444.21 142.85,443.61 144.19,443.01 145.52,442.42 146.86,441.83 148.19,441.24 149.53,440.66 150.86,440.08 152.20,439.51 153.54,438.94 154.87,438.37 156.21,437.81 157.54,437.25 158.88,436.70 160.21,436.14 161.55,435.58 162.89,435.03 164.22,434.48 165.56,433.94 166.89,433.40 168.23,432.86 169.56,432.33 170.90,431.80 172.24,431.28 173.57,430.77 174.91,430.26 176.24,429.76 177.58,429.27 178.91,428.79 180.25,428.31 181.58,427.85 182.92,427.39 184.26,426.94 185.59,426.50 186.93,426.07 188.26,425.64 189.60,425.21 190.93,424.80 192.27,424.39 193.61,423.98 194.94,423.59 196.28,423.19 197.61,422.80 198.95,422.42 200.28,422.00 201.62,421.55 202.95,421.08 204.29,420.62 205.63,420.18 206.96,419.80 208.30,419.48 209.63,419.26 210.97,419.15 212.30,419.25 213.64,419.69 214.98,420.20 216.31,420.48 217.65,420.39 218.98,420.11 220.32,419.68 221.65,419.18 222.99,418.67 224.32,418.20 225.66,417.71 227.00,417.18 228.33,416.64 229.67,416.10 231.00,415.60 232.34,415.17 233.67,414.71 235.01,414.24 236.35,413.78 237.68,413.37 239.02,413.03 240.35,412.78 241.69,412.67 243.02,412.73 244.36,412.98 245.70,413.40 247.03,413.97 248.37,415.35" fill="none" stroke="#22dd22" stroke-width="1.3" stroke-linejoin="round" stroke-linecap="round" />
<polyline points="36.00,520.52 37.32,515.80 38.64,511.57 39.96,507.88 41.28,504.61 42.60,501.76 43.92,499.33 45.24,497.15 46.56,495.18 47.88,493.42 49.20,491.83 50.52,490.37 51.84,489.02 53.16,487.77 54.48,486.60 55.80,485.49 57.11,484.45 58.43,483.47 59.75,482.54 61.07,481.66 62.39,480.80 63.71,479.95 65.03,479.11 66.35,478.27 67.67,477.45 68.99,476.65 70.31,475.86 71.63,475.08 72.95,474.32 74.27,473.58 75.59,472.86 76.91,472.16 78.23,471.48 79.55,470.82 80.87,470.17 82.19,469.53 83.51,468.90 84.83,468.27 86.15,467.64 87.47,467.00 88.79,466.35 90.11,465.68 91.43,465.01 92.75,464.34 94.07,463.66 95.39,462.99 96.70,462.31 98.02,461.64 99.34,460.97 100.66,460.31 101.98,459.66 103.30,459.02 104.62,458.39 105.94,457.77 107.26,457.16 108.58,456.55 109.90,455.95 111.22,455.35 112.54,454.75 113.86,454.15 115.18,453.54 116.50,452.94 117.82,452.32 119.14,451.71 120.46,451.09 121.78,450.47 123.10,449.85 124.42,449.23 125.74,448.61 127.06,447.99 128.38,447.37 129.70,446.75 131.02,446.13 132.34,445.51 133.66,444.89 134.98,444.27 136.30,443.64 137.61,443.02 138.93,442.39 140.25,441.77 141.57,441.14 142.89,440.52 144.21,439.90 145.53,439.28 146.85,438.67 148.17,438.06 149.49,437.45 150.81,436.85 152.13,436.25 153.45,435.66 154.77,435.08 156.09,434.50 157.41,433.93 158.73,433.36 160.05,432.80 161.37,432.24 162.69,431.69 164.01,431.14 165.33,430.59 166.65,430.05 167.97,429.50 169.29,428.96 170.61,428.43 171.93,427.89 173.25,427.36 174.57,426.83 175.89,426.30 177.20,425.77 178.52,425.24 179.84,424.71 181.16,424.19 182.48,423.65 183.80,423.11 185.12,422.56 186.44,422.02 187.76,421.47 189.08,420.93 190.40,420.39 191.72,419.87 193.04,419.35 194.36,418.85 195.68,418.37 197.00,417.91 198.32,417.48 199.64,417.07 200.96,416.68 202.28,416.31 203.60,415.96 204.92,415.63 206.24,415.30 207.56,414.98 208.88,414.66 210.20,414.33 211.52,414.01 212.84,413.67 214.16,413.32 215.48,412.96 216.80,412.57 218.11,412.10 219.43,411.56 220.75,410.98 222.07,410.41 223.39,409.87 224.71,409.42 226.03,409.08 227.35,408.89 228.67,408.97 229.99,409.56 231.31,411.55 232.63,410.74 233.95,409.73 235.27,409.00 236.59,408.50 237.91,408.03 239.23,407.68 240.55,407.53 241.87,407.53 243.19,407.53 244.51,407.53 245.83,407.53" fill="none" stroke="#2090e8" stroke-width="1.3" stroke-linejoin="round" stroke-linecap="round" />
<rect x="36.00" y="394.40" width="238.00" height="156.00" fill="none" stroke="#111" stroke-width="1.3"/>
<line x1="36.00" y1="550.40" x2="36.00" y2="546.90" stroke="#111" stroke-width="1" />
<line x1="55.83" y1="550.40" x2="55.83" y2="548.40" stroke="#111" stroke-width="1" />
<line x1="75.66" y1="550.40" x2="75.66" y2="546.90" stroke="#111" stroke-width="1" />
<line x1="95.50" y1="550.40" x2="95.50" y2="548.40" stroke="#111" stroke-width="1" />
<line x1="115.33" y1="550.40" x2="115.33" y2="546.90" stroke="#111" stroke-width="1" />
<line x1="135.16" y1="550.40" x2="135.16" y2="548.40" stroke="#111" stroke-width="1" />
<line x1="155.00" y1="550.40" x2="155.00" y2="546.90" stroke="#111" stroke-width="1" />
<line x1="174.83" y1="550.40" x2="174.83" y2="548.40" stroke="#111" stroke-width="1" />
<line x1="194.66" y1="550.40" x2="194.66" y2="546.90" stroke="#111" stroke-width="1" />
<line x1="214.49" y1="550.40" x2="214.49" y2="548.40" stroke="#111" stroke-width="1" />
<line x1="234.32" y1="550.40" x2="234.32" y2="546.90" stroke="#111" stroke-width="1" />
<line x1="254.16" y1="550.40" x2="254.16" y2="548.40" stroke="#111" stroke-width="1" />
<line x1="273.99" y1="550.40" x2="273.99" y2="546.90" stroke="#111" stroke-width="1" />
<line x1="36.00" y1="550.66" x2="38.00" y2="550.66" stroke="#111" stroke-width="1" />
<line x1="36.00" y1="539.50" x2="39.50" y2="539.50" stroke="#111" stroke-width="1" />
<line x1="36.00" y1="528.34" x2="38.00" y2="528.34" stroke="#111" stroke-width="1" />
<line x1="36.00" y1="517.17" x2="39.50" y2="517.17" stroke="#111" stroke-width="1" />
<line x1="36.00" y1="506.00" x2="38.00" y2="506.00" stroke="#111" stroke-width="1" />
<line x1="36.00" y1="494.84" x2="39.50" y2="494.84" stroke="#111" stroke-width="1" />
<line x1="36.00" y1="483.68" x2="38.00" y2="483.68" stroke="#111" stroke-width="1" />
<line x1="36.00" y1="472.51" x2="39.50" y2="472.51" stroke="#111" stroke-width="1" />
<line x1="36.00" y1="461.35" x2="38.00" y2="461.35" stroke="#111" stroke-width="1" />
<line x1="36.00" y1="450.18" x2="39.50" y2="450.18" stroke="#111" stroke-width="1" />
<line x1="36.00" y1="439.01" x2="38.00" y2="439.01" stroke="#111" stroke-width="1" />
<line x1="36.00" y1="427.85" x2="39.50" y2="427.85" stroke="#111" stroke-width="1" />
<line x1="36.00" y1="416.69" x2="38.00" y2="416.69" stroke="#111" stroke-width="1" />
<line x1="36.00" y1="405.52" x2="39.50" y2="405.52" stroke="#111" stroke-width="1" />
<text x="36.00" y="562.20" font-size="8.9" font-weight="bold" text-anchor="middle" fill="#111" font-family="'Liberation Sans', Arial, sans-serif" stroke="#111" stroke-width="0.22">0</text>
<text x="75.66" y="562.20" font-size="8.9" font-weight="bold" text-anchor="middle" fill="#111" font-family="'Liberation Sans', Arial, sans-serif" stroke="#111" stroke-width="0.22">5</text>
<text x="115.33" y="562.20" font-size="8.9" font-weight="bold" text-anchor="middle" fill="#111" font-family="'Liberation Sans', Arial, sans-serif" stroke="#111" stroke-width="0.22">10</text>
<text x="155.00" y="562.20" font-size="8.9" font-weight="bold" text-anchor="middle" fill="#111" font-family="'Liberation Sans', Arial, sans-serif" stroke="#111" stroke-width="0.22">15</text>
<text x="194.66" y="562.20" font-size="8.9" font-weight="bold" text-anchor="middle" fill="#111" font-family="'Liberation Sans', Arial, sans-serif" stroke="#111" stroke-width="0.22">20</text>
<text x="234.32" y="562.20" font-size="8.9" font-weight="bold" text-anchor="middle" fill="#111" font-family="'Liberation Sans', Arial, sans-serif" stroke="#111" stroke-width="0.22">25</text>
<text x="273.99" y="562.20" font-size="8.9" font-weight="bold" text-anchor="middle" fill="#111" font-family="'Liberation Sans', Arial, sans-serif" stroke="#111" stroke-width="0.22">30</text>
<text x="31.90" y="542.30" font-size="8.9" font-weight="bold" text-anchor="end" fill="#111" font-family="'Liberation Sans', Arial, sans-serif" stroke="#111" stroke-width="0.22">0</text>
<text x="31.90" y="519.97" font-size="8.9" font-weight="bold" text-anchor="end" fill="#111" font-family="'Liberation Sans', Arial, sans-serif" stroke="#111" stroke-width="0.22">1</text>
<text x="31.90" y="497.64" font-size="8.9" font-weight="bold" text-anchor="end" fill="#111" font-family="'Liberation Sans', Arial, sans-serif" stroke="#111" stroke-width="0.22">2</text>
<text x="31.90" y="475.31" font-size="8.9" font-weight="bold" text-anchor="end" fill="#111" font-family="'Liberation Sans', Arial, sans-serif" stroke="#111" stroke-width="0.22">3</text>
<text x="31.90" y="452.98" font-size="8.9" font-weight="bold" text-anchor="end" fill="#111" font-family="'Liberation Sans', Arial, sans-serif" stroke="#111" stroke-width="0.22">4</text>
<text x="31.90" y="430.65" font-size="8.9" font-weight="bold" text-anchor="end" fill="#111" font-family="'Liberation Sans', Arial, sans-serif" stroke="#111" stroke-width="0.22">5</text>
<text x="31.90" y="408.32" font-size="8.9" font-weight="bold" text-anchor="end" fill="#111" font-family="'Liberation Sans', Arial, sans-serif" stroke="#111" stroke-width="0.22">6</text>
<text x="49.00" y="412.80" font-size="6.8" font-weight="bold" text-anchor="start" fill="#111" font-family="'Liberation Sans', Arial, sans-serif" stroke="#111" stroke-width="0.22">PVDF-HFP@TiO<tspan font-size="4.6" dy="1.6">2</tspan></text>
<text x="49.00" y="423.80" font-size="6.4" font-weight="bold" text-anchor="start" fill="#111" font-family="'Liberation Sans', Arial, sans-serif" stroke="#111" stroke-width="0.22">UV-A exposure time:</text>
<line x1="49.00" y1="429.00" x2="63.60" y2="429.00" stroke="#2090e8" stroke-width="1.8" />
<text x="65.00" y="431.40" font-size="6.6" font-weight="bold" text-anchor="start" fill="#111" font-family="'Liberation Sans', Arial, sans-serif" stroke="#111" stroke-width="0.22">0 h</text>
<line x1="49.00" y1="437.20" x2="63.60" y2="437.20" stroke="#ee2222" stroke-width="1.8" />
<text x="65.00" y="439.60" font-size="6.6" font-weight="bold" text-anchor="start" fill="#111" font-family="'Liberation Sans', Arial, sans-serif" stroke="#111" stroke-width="0.22">1 h</text>
<line x1="49.00" y1="445.40" x2="63.60" y2="445.40" stroke="#22dd22" stroke-width="1.8" />
<text x="65.00" y="447.80" font-size="6.6" font-weight="bold" text-anchor="start" fill="#111" font-family="'Liberation Sans', Arial, sans-serif" stroke="#111" stroke-width="0.22">5 h</text>
<text x="22.00" y="389.20" font-size="11.8" font-weight="bold" text-anchor="start" fill="#111" font-family="'Liberation Serif', 'Times New Roman', serif" stroke="#111" stroke-width="0.35">(e)</text>
<text x="155.50" y="570.50" font-size="8.3" font-weight="bold" text-anchor="middle" fill="#111" font-family="'Liberation Sans', Arial, sans-serif" stroke="#111" stroke-width="0.22">Strain (%)</text>
<text transform="translate(24.8,481) rotate(-90)" font-size="8.4" font-weight="bold" text-anchor="middle" fill="#111" stroke="#111" stroke-width="0.22" font-family="'Liberation Sans', Arial, sans-serif">Stress (MPa)</text>
<text x="286.00" y="389.80" font-size="11.8" font-weight="bold" text-anchor="start" fill="#111" font-family="'Liberation Serif', 'Times New Roman', serif" stroke="#111" stroke-width="0.35">(f)</text>
<defs><clipPath id="cl"><rect x="298.2" y="394.8" width="150.9" height="152.6"/></clipPath><clipPath id="cr"><rect x="449.6" y="394.7" width="90.6" height="152.7"/></clipPath><filter id="bl" x="-5%" y="-5%" width="110%" height="110%"><feGaussianBlur stdDeviation="0.7"/></filter><filter id="bl2" x="-5%" y="-5%" width="110%" height="110%"><feGaussianBlur stdDeviation="1.6"/></filter><linearGradient id="wood" x1="0" y1="0" x2="1" y2="1"><stop offset="0" stop-color="#d8b292"/><stop offset="1" stop-color="#cfa98a"/></linearGradient><linearGradient id="blk1" x1="0" y1="0" x2="1" y2="0"><stop offset="0" stop-color="#b4aea9"/><stop offset="0.5" stop-color="#aaa39d"/><stop offset="1" stop-color="#a29c97"/></linearGradient><linearGradient id="blk2" x1="0" y1="0" x2="1" y2="0"><stop offset="0" stop-color="#bababa"/><stop offset="1" stop-color="#a4a4a4"/></linearGradient><linearGradient id="carpet" x1="0" y1="0" x2="0" y2="1"><stop offset="0" stop-color="#7f8986"/><stop offset="0.5" stop-color="#77817d"/><stop offset="1" stop-color="#727c78"/></linearGradient><linearGradient id="hand" x1="0" y1="0" x2="1" y2="0"><stop offset="0" stop-color="#1a1a1a"/><stop offset="0.6" stop-color="#2a2a2a"/><stop offset="1" stop-color="#111"/></linearGradient><linearGradient id="tip" x1="0" y1="0" x2="1" y2="0"><stop offset="0" stop-color="#9ea2a8"/><stop offset="0.45" stop-color="#e4e6ea"/><stop offset="1" stop-color="#a8acb2"/></linearGradient></defs>
<g clip-path="url(#cl)"><g filter="url(#bl)">
<rect x="296" y="392" width="156" height="158" fill="url(#wood)"/>
<polygon points="296,392 452,392 452,396.5 296,397" fill="#d4d4d6"/>
<polygon points="428,392 452,392 452,408 428.5,408" fill="#dcdcde"/>
<polygon points="441,410 446,400 450,400 450,412" fill="#1e1e1e"/>
<polygon points="306.2,408.7 364.4,408.2 364.4,436.4 312,436.8" fill="url(#blk1)"/>
<polygon points="340,414 364.4,413 364.4,428 345,429" fill="#958e88" opacity="0.6"/>
<polygon points="305.8,403.2 364.4,401.2 364.4,408.6 306.2,408.9" fill="#c8c4c1"/>
<line x1="323" y1="402.8" x2="323" y2="408.8" stroke="#b0aca8" stroke-width="0.6"/>
<line x1="346.5" y1="402" x2="346.5" y2="408.5" stroke="#b0aca8" stroke-width="0.6"/>
<polygon points="324.3,415.3 327.8,415.1 330.2,432.7 326.6,432.9" fill="#d7b495"/>
<polygon points="325.6,425.5 329,425.3 330.2,432.7 326.6,432.9" fill="#2c2c2c"/>
<polygon points="344.7,413.8 347.8,413.8 349.3,431.3 346.1,431.3" fill="#d7b495"/>
<polygon points="345.4,424.5 348.6,424.5 349.3,431.3 346.1,431.3" fill="#2c2c2c"/>
<rect x="332.4" y="399.8" width="4.6" height="6.8" rx="1.2" fill="#1a1a1a"/>
<polygon points="368.3,403.2 427.8,395.8 428.5,414.7 368.3,414.9" fill="#c6c6c7"/>
<polygon points="368.3,414.7 428.5,414.7 428.5,439 368.3,439.2" fill="url(#blk2)"/>
<line x1="368.3" y1="414.9" x2="428.5" y2="414.7" stroke="#d8d8d8" stroke-width="0.8"/>
<ellipse cx="399.8" cy="404.4" rx="6.2" ry="2.3" fill="#5a5a5a"/>
<rect x="398.2" y="399" width="3.2" height="6.5" rx="1" fill="#1e1e1e"/>
<polygon points="382.4,420.1 386.6,420.1 387.1,435.8 382.9,435.8" fill="#222"/>
<polygon points="402,422.5 406.6,422.5 407.4,438.1 402.8,438.1" fill="#222"/>
<polygon points="324.4,440.3 446.3,452 446.3,478.5 307.3,469.5" fill="#c2c2c4"/>
<path d="M345.6,438.6 C380,439 410,444 424,451 C432,458 431,470 427.9,475.7 L334,466.5 C333,455 336,444 345.6,438.6 Z" fill="#c9c9cb" stroke="#a9a9ab" stroke-width="0.8"/>
<polygon points="307.3,469.5 446.3,478.5 446.3,481 307.8,472" fill="#a8a8aa"/>
<polygon points="367,458.7 393.8,459.2 393.8,465.8 367,465.3" fill="#ebe9e2"/>
<polygon points="364,465.3 393.8,465.8 393.8,476.5 364,474.5" fill="#b4b4b6"/>
<polygon points="321,459.5 329,449.5 331.5,451 323.5,461.5" fill="#6e5a48"/>
<polygon points="437,463 440.5,463 441.5,474.3 438,474.3" fill="#b89070"/>
<circle cx="344" cy="463.5" r="1.2" fill="#8a8a8c"/>
<circle cx="426" cy="449" r="1.2" fill="#8a8a8c"/>
<polygon points="317.8,474.4 445.5,480 445.5,550 296,550 296,513.6" fill="#e2e3e6"/>
<rect x="296" y="543.5" width="150" height="3" fill="#d2b8a0"/>
<polygon points="320,476.5 432.4,484 432.4,542.7 376,534 299,528.2 299,518" fill="#b9bcbb"/>
<polygon points="299,528.2 376,534 432.4,542.7 432.4,544.5 376,536.5 299,531" fill="#cfd0d2"/>
<path d="M306,500 C318,496 330,500 338,512" stroke="#c9cccc" stroke-width="1.6" fill="none" stroke-linecap="round"/>
<path d="M346.9,504.9 C352,510 355,515 357,521" stroke="#d6d9d9" stroke-width="1.5" fill="none" stroke-linecap="round"/>
<path d="M321.5,518 C324,522 326,525 327.3,527.5" stroke="#d6d9d9" stroke-width="1.5" fill="none" stroke-linecap="round"/>
<path d="M398.2,509.3 C403,514 403,520 402.5,522.4 C401,526 400,529 398.9,531" stroke="#dadddd" stroke-width="1.6" fill="none" stroke-linecap="round"/>
<path d="M411.3,521 C414,526 414,532 412,536" stroke="#d0d3d3" stroke-width="1.3" fill="none" stroke-linecap="round"/>
<path d="M423,510.7 C428,517 428.5,526 427.3,530 C426,535 424.5,538 423,541" stroke="#dadddd" stroke-width="1.6" fill="none" stroke-linecap="round"/>
<path d="M350,490 C365,495 372,505 380,520" stroke="#c8cbcb" stroke-width="1.2" fill="none" stroke-linecap="round"/>
<path d="M310,508 C330,505 350,515 360,530" stroke="#c4c7c7" stroke-width="1.0" fill="none" stroke-linecap="round"/>
<path d="M344,480.5 L378,489.5 L388,507" stroke="#8e9090" stroke-width="2" fill="none"/>
<polygon points="341.2,482.4 344.7,483.4 337.8,498.4 334.5,497.4" fill="#7a7c7c"/>
<polygon points="333,498 346,500.5 345.5,501.5 332.5,499" fill="#d4d6d6"/>
<rect x="403.5" y="487.5" width="3.5" height="17" rx="1.2" fill="#a8a4a4"/>
<circle cx="405.2" cy="501" r="0.8" fill="#d04040"/>
<path d="M432.4,503.5 C438,508 440,514 439,518 C438,526 435,533 432.4,538.4" stroke="#6a6c6e" stroke-width="0.8" fill="none"/>
<rect x="445.5" y="478" width="6" height="72" fill="#cca282"/>
</g></g>
<g clip-path="url(#cr)"><g filter="url(#bl)">
<rect x="448" y="392" width="94" height="158" fill="url(#carpet)"/>
<path d="M452,396 C470,410 470,425 472,428" stroke="#3a3f3e" stroke-width="1.2" fill="none"/>
<path d="M476,398 C485,405 500,400 520,400 C530,400 538,397 542,396" stroke="#222" stroke-width="1.6" fill="none"/>
<path d="M510,412 C520,404 530,402 542,404" stroke="#1a1a1a" stroke-width="2" fill="none"/>
<path d="M530,398 C536,405 537,412 540,420" stroke="#2a2a2a" stroke-width="1.5" fill="none"/>
<path d="M470,432 C480,420 490,414 505,412" stroke="#5a6260" stroke-width="1" fill="none"/>
<polygon points="479,437 490,420 497.5,410 503,406.5 517,408.5 519,425 511,446 498,452 485,449" fill="#232323"/>
<ellipse cx="509" cy="409.5" rx="9" ry="4" transform="rotate(15 509 409.5)" fill="#2e2e2e"/>
<path d="M482.5,435.9 Q496.5,443.9 510.5,438.9" stroke="#3a3a3a" stroke-width="0.6" fill="none"/>
<path d="M484.7,431.3 Q498.7,439.3 512.7,434.3" stroke="#3a3a3a" stroke-width="0.6" fill="none"/>
<path d="M486.9,426.7 Q500.9,434.7 514.9,429.7" stroke="#3a3a3a" stroke-width="0.6" fill="none"/>
<path d="M489.1,422.1 Q503.1,430.1 517.1,425.1" stroke="#3a3a3a" stroke-width="0.6" fill="none"/>
<path d="M491.3,417.5 Q505.3,425.5 519.3,420.5" stroke="#3a3a3a" stroke-width="0.6" fill="none"/>
<path d="M493.5,412.9 Q507.5,420.9 521.5,415.9" stroke="#3a3a3a" stroke-width="0.6" fill="none"/>
<ellipse cx="494.3" cy="441.5" rx="16.3" ry="10.2" transform="rotate(14 494.3 441.5)" fill="#0e0e0e"/>
<ellipse cx="495.5" cy="441" rx="9" ry="5.5" transform="rotate(14 495.5 441)" fill="#3a3a3a"/>
<polygon points="513,414 520.5,413 520,434 513,435" fill="#8c9090"/>
<rect x="515.8" y="420.5" width="2.8" height="3.2" fill="#d42020"/>
<polygon points="489,440 502,445 494,462 481,455" fill="url(#tip)"/>
<polygon points="481,455 492,461 487.5,466 478.5,462" fill="#c4c8cc"/>
<polygon points="479,461 484.5,463.5 481.5,472.5 477.5,471.5" fill="#d6d8dc"/>
<ellipse cx="479.8" cy="472" rx="2.6" ry="1.5" fill="#eceef0"/>
<path d="M455,467 C452,475 454,490 458,498" stroke="#ece8e2" stroke-width="1.7" fill="none"/>
<path d="M455,467 C462,473 475,478 485,484" stroke="#ece8e2" stroke-width="1.7" fill="none"/>
<path d="M448,514 C452,505 458,499 465,496 C472,492 480,487 493,480.5 C505,484 515,489 525,491 L542,496 L542,550 L448,550 Z" fill="#e3dcd2"/>
<path d="M466,506 C480,498 500,494 520,496 L542,500 L542,550 L470,550 C463,535 462,518 466,506 Z" fill="#eee9ef"/>
<path d="M493,482 C505,486 520,490 542,494" stroke="#c0b8ae" stroke-width="1" fill="none"/>
<circle cx="462" cy="502" r="2.2" fill="#a8a4a2"/>
<circle cx="487" cy="488" r="2" fill="#a8a4a2"/>
<rect x="448" y="392" width="2.5" height="160" fill="#d8c8bc"/>
</g></g>
</svg>
</body></html>
